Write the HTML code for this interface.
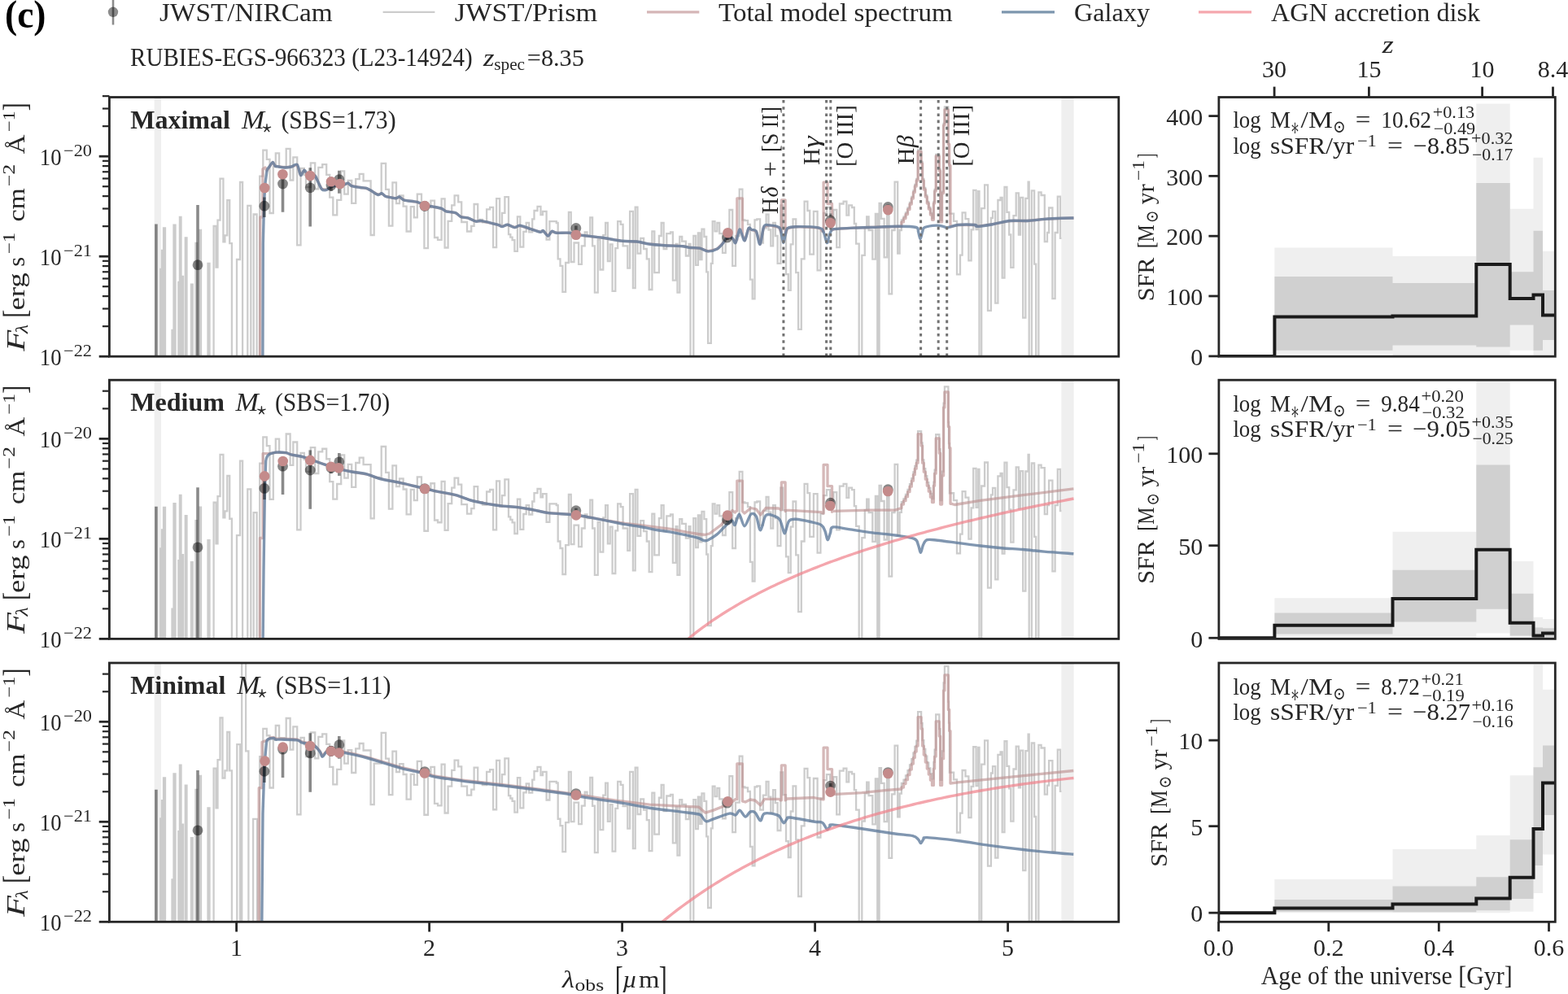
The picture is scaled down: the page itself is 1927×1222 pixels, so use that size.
<!DOCTYPE html><html><head><meta charset="utf-8"><title>SED fits</title>
<style>html,body{margin:0;padding:0;background:#fff;overflow:hidden}svg{display:block}text{font-family:"Liberation Serif", "DejaVu Serif", serif;fill:#262626}</style></head><body>
<svg width="1927" height="1222" viewBox="0 0 1927 1222">
<rect width="1927" height="1222" fill="#fff"/>
<defs>
<clipPath id="cl0"><rect x="134.4" y="119.5" width="1240.4" height="318.7"/></clipPath>
<clipPath id="cr0"><rect x="1497.9" y="119.5" width="413.4" height="318.7"/></clipPath>
<clipPath id="cl1"><rect x="134.4" y="467.2" width="1240.4" height="318.2"/></clipPath>
<clipPath id="cr1"><rect x="1497.9" y="467.2" width="413.4" height="318.2"/></clipPath>
<clipPath id="cl2"><rect x="134.4" y="815" width="1240.4" height="318.3"/></clipPath>
<clipPath id="cr2"><rect x="1497.9" y="815" width="413.4" height="318.3"/></clipPath>
</defs>
<g clip-path="url(#cl0)">
<rect x="189.6" y="119.5" width="8.4" height="318.7" fill="#efefef"/>
<rect x="1304.4" y="119.5" width="15.2" height="318.7" fill="#efefef"/>
<path d="M185 468.2 H197.2 V331 H199 V308 H201 V280.5 H203 V468.2 H211.5 V406 H213.5 V276.6 H215.5 V468.2 H219.4 V347 H220.9 V266.8 H222.5 V340 H225 V468.2 H227.8 V292.3 H229.5 V468.2 H234.9 V349.7 H236.8 V468.2 H240.4 V299 H242 V468.2 H245.5 V283 H247 V468.2 H255.5 V324 H257.5 V468.2 H258.5 V468.2 H259 V468.2 H185 Z" fill="#cccccc" stroke="none"/>
<path d="M185 468.2 H197.2 V331 H199 V308 H201 V280.5 H203 V468.2 H211.5 V406 H213.5 V276.6 H215.5 V468.2 H219.4 V347 H220.9 V266.8 H222.5 V340 H225 V468.2 H227.8 V292.3 H229.5 V468.2 H234.9 V349.7 H236.8 V468.2 H240.4 V299 H242 V468.2 H245.5 V283 H247 V468.2 H255.5 V324 H257.5 V468.2 H262.6 V278 H265.5 V328.7 H267.5 V270.7 H270.5 V219.6 H274.4 V297.3 H276.4 V289.4 H279.3 V246.2 H282.2 V299.1 H284.9 V468.2 H291 V319 H295 V224 H298.1 V468.2 H304.3 V252.8 H308.3 V468.2 H311.7 V263.5 H315.6 V468.2 H319.2 V216.6 H323.3 V184.7 H327.8 V195.8 H331.5 V262 H335.8 V205 H338.8 V188.4 H343.1 V205 H351.7 V182.9 H356.6 V221.5 H360.3 V193.3 H365.2 V301.3 H369.5 V206.8 H373.8 V215 H376 V230 H381.8 V200.4 H387.2 V232.3 H391.3 V205.8 H396.2 V202.2 H401.2 V214.8 H405.2 V242.7 H409.3 V264.3 H414.2 V245.8 H419.2 V210.3 H423.2 V238.6 H427.7 V222 H432.2 V249.9 H437.2 V220.2 H441.7 V213.9 H446.6 V222.4 H455.6 V289 H459.7 V238.6 H468.7 V200.8 H474.1 V232.8 H477.9 V277.6 H482.4 V224.4 H487 V250.1 H491 V240.4 H495.6 V253.6 H499.6 V284.5 H504.8 V254.1 H508.8 V267.3 H512.8 V238.7 H518 V253 H521.4 V305.1 H526 V255 H529.4 V246.7 H534 V292 H538 V294.8 H542.6 V244.4 H546.6 V304.5 H550.6 V271.9 H555.2 V252.4 H558.6 V240.4 H563.2 V248.4 H567.2 V273 H574 V284.5 H579.2 V277.9 H582.6 V251 H587.2 V269.9 H592.9 V273.3 H598.1 V257.3 H602.1 V254.8 H606.1 V304.2 H610.1 V244.1 H614.1 V275.6 H617 V261.9 H620.4 V242.2 H625 V288.2 H627.3 V291.6 H629.6 V295.1 H632.4 V308.8 H635.9 V266.4 H639.3 V303.7 H643.3 V284.8 H646.7 V273.9 H650.2 V285.3 H654.2 V269.3 H656.5 V259 H660.5 V253.8 H664.5 V264.1 H667 V259.9 H671.6 V294.7 H675.4 V272.1 H683.8 V274 H685.7 V318.3 H688.5 V326.8 H691.4 V358.8 H695.1 V323 H698.9 V260.8 H701.7 V322 H705.5 V298.5 H711.1 V324.9 H714.9 V302.3 H718.7 V285.3 H721.5 V290 H725.3 V267.4 H728.1 V302.3 H730.9 V359.7 H734.7 V294.7 H737.5 V331.5 H741.3 V289.1 H744.1 V274 H746.9 V321.1 H749.7 V300.4 H752.6 V357.8 H756.3 V305.1 H759.2 V272.1 H762.8 V275.9 H765.6 V302.3 H771.3 V329.6 H774.1 V259.9 H777.9 V354.1 H780.7 V254.6 H783.5 V311.7 H787.3 V292.9 H791.1 V306 H794.8 V318.3 H797.7 V356 H801.4 V284.4 H804.3 V335.2 H809.9 V290 H812.7 V274 H815.6 V306 H819.3 V287.2 H824 V285.3 H826.9 V344.7 H830.6 V300 H832.5 V359.7 H835.3 V291 H838.2 V296.6 H842.9 V314.5 H846.6 V300 H848.5 V468.2 H852.3 V290 H855.1 V325.8 H857.9 V286.3 H860.3 V319.2 H862.5 V281.6 H865.4 V291 H868.2 V334.3 H870.1 V421.9 H873.8 V323.9 H875.7 V272.1 H878.5 V284.4 H881.4 V274 H884.2 V287.2 H888 V310.8 H891.7 V290 H896.4 V258 H900.2 V326.8 H904 V290 H908.7 V232.6 H912.4 V270.3 H915.3 V271.2 H919 V275.9 H921.9 V343.7 H924.7 V367.3 H927.5 V270.3 H930.3 V269.3 H934.1 V298.5 H937.9 V280.6 H941.6 V263.7 H944.5 V282.5 H947.3 V302.3 H950.1 V274 H952.9 V290 H955.6 V323.9 H959.4 V252.4 H962.2 V280 H966 V337.1 H968.8 V356.9 H971.7 V300.4 H974.5 V269.3 H978.2 V335.2 H981.1 V404.9 H984.8 V318.3 H988.6 V247.7 H992.4 V259 H995.2 V312.6 H999.9 V259.9 H1004.6 V332.4 H1008.4 V284.4 H1012.1 V262 H1016 V255 H1020 V270 H1024.4 V258 H1028.2 V304.2 H1031.9 V250.5 H1036.6 V247.7 H1040.4 V264.6 H1043.2 V252.4 H1047 V255 H1049.8 V275 H1052.1 V299.6 H1055.7 V468.2 H1059.3 V313.9 H1062.8 V280 H1065.2 V266.4 H1067.6 V283 H1072.3 V318.6 H1075.9 V262.8 H1078.3 V468.2 H1080.6 V249.8 H1083 V268.8 H1086.6 V316.3 H1090.1 V264 H1092.5 V361.4 H1096.1 V283 H1099.6 V223.6 H1103.2 V311.5 H1105.6 V283 H1107.9 V270.5 H1110.5 V266.5 H1113 V261.5 H1115.5 V255.5 H1118 V249 H1120.3 V242 H1122.4 V234.5 H1124.3 V227 H1126.2 V220 H1128.1 V184.5 H1132.1 V199 H1133.6 V220 H1135.3 V231 H1137.3 V240 H1139.3 V248 H1141.3 V255 H1143.4 V262 H1145.5 V268.3 H1147.4 V248 H1148.6 V233 H1150.2 V189.8 H1154.3 V208 H1155.6 V270.9 H1157.6 V235.6 H1159.6 V151.8 H1160.9 V131.5 H1165.4 V175.4 H1166 V201.5 H1166.9 V262.7 H1172.1 V271.8 H1176 V337.3 H1180 V313.7 H1182.6 V261.4 H1186.5 V269.2 H1190.4 V320.3 H1193.6 V282.3 H1196.2 V233.9 H1199.6 V282 H1202.2 V235.2 H1203.5 V468.2 H1206.2 V256.1 H1210.1 V227.3 H1214 V381.8 H1217.9 V268 H1220 V259.8 H1223.2 V372.6 H1226.4 V246 H1229.6 V242.8 H1231.7 V341.7 H1234.5 V230 H1237.4 V260.9 H1240.2 V288.5 H1242.3 V328.9 H1245.5 V265.1 H1248.7 V237.4 H1251.9 V288.5 H1254 V242.8 H1257.2 V390.6 H1260.4 V243.8 H1263.6 V223.6 H1264.7 V468.2 H1267.9 V234.3 H1271.1 V324.7 H1273.2 V468.2 H1276.4 V236.4 H1279.6 V240 H1283.8 V297 H1287 V286 H1289.1 V255.5 H1293.4 V367.2 H1296.6 V286 H1299.8 V241.7 H1303 V292.8 H1304.5" fill="none" stroke="#cccccc" stroke-width="2.3" stroke-linejoin="miter"/>
<polyline points="319.4,470 319.8,267 322.9,267 322.9,208 326,206 328,210 331,205 335.2,199.4 338,204 343,205 350,206 358,205 365.2,202.5 369.5,215.4 373.8,209.3 378,214.2 382,215.5 387.2,216.1 395.3,232.3 401.6,233.2 407,229.6 415,228 423.2,226.9 427.7,225.1 432.2,228.7 443,230.5 450.2,231.4 455.6,234.1 464.6,239.5 469.1,237.7 473.6,241.3 480,242.7 486.5,243.8 491,242.1 496.8,246.1 512.8,248.4 522,252.4 532.3,254.1 542.6,256.4 548.3,259.9 559.8,261.6 566.6,266.7 575,267.9 584.9,272.2 591.8,271.6 611.2,276.2 617,278.5 623.8,276.2 632.4,279.6 638.7,277.3 650.2,280.8 663.9,285.3 667.4,283.6 673.5,290 678.2,284.4 683.8,286.3 699.8,286.3 714,289.1 740.3,292.3 765,296.3 782.6,297 797.7,300 816.5,301.7 839.1,302.7 848.5,304.5 860,305.1 870.1,308.9 881.4,306 888.9,298.5 892.7,292.9 900.2,292.9 904,298.5 905,295.1 905.8,295.1 905.8,243.9 912.4,243.9 912.4,289.21 913,290.56 915.3,295.7 920,280.6 923.7,282.5 929.4,284.4 934.1,300.4 938.8,278.7 945.4,276.9 957.5,279.7 959.5,285.23 960.4,285.23 960.4,245.8 965.1,245.8 965.1,288.84 966,286.01 967.9,280.6 978.2,278.7 1006.5,280.1 1011.5,284.74 1012.1,284.74 1012.1,224.1 1017,224.1 1017,250.5 1022.5,250.5 1022.5,282.96 1023,282.72 1025.3,281.6 1050,280.1 1068.8,279.5 1104.4,278.3 1107.9,278.5 1107.9,278.5 1107.9,272.9 1110.5,272.9 1110.5,268.5 1113,268.5 1113,263.5 1115.5,263.5 1115.5,257.5 1118,257.5 1118,251 1120.3,251 1120.3,244 1122.4,244 1122.4,236.5 1124.3,236.5 1124.3,229 1126.2,229 1126.2,222 1128.1,222 1128.1,186.5 1132.1,186.5 1132.1,200.9 1133.6,200.9 1133.6,222 1135.3,222 1135.3,233 1137.3,233 1137.3,242 1139.3,242 1139.3,250 1141.3,250 1141.3,257 1143.4,257 1143.4,264 1145.5,264 1145.5,270.3 1147.4,270.3 1147.4,250 1148.6,250 1148.6,235 1150.2,235 1150.2,191.8 1154.3,191.8 1154.3,210 1155.6,210 1155.6,272.9 1157.6,272.9 1157.6,237.6 1159.6,237.6 1159.6,153.8 1160.9,153.8 1160.9,134.8 1165.4,134.8 1165.4,177.4 1166.7,177.4 1166.7,203.5 1168,203.5 1168,278.8 1177.4,276.5 1198.3,276.5 1200.9,278.4 1220,275.7 1241.3,271.5 1262.6,271.5 1283.8,269.4 1305.1,268.3 1319.5,268" fill="none" stroke="#bc8f8f" stroke-opacity="0.63" stroke-width="3.3" stroke-linejoin="round"/>
<path d="M322.8 470 L323.3 300 L324.5 250 L326 225 L328 210 C328.83 206.67 329.8 206.77 331 205 C331.7 204.07 334.03 199.57 335.2 199.4 C336.37 199.23 336.7 203.07 338 204 C339.3 204.93 341 204.67 343 205 C345 205.33 347.5 206 350 206 C352.5 206 355.47 205.58 358 205 C360.53 204.42 363.28 200.77 365.2 202.5 C367.12 204.23 368.07 214.27 369.5 215.4 C370.93 216.53 372.38 209.5 373.8 209.3 C375.22 209.1 376.63 213.17 378 214.2 C379.37 215.23 380.47 215.18 382 215.5 C383.53 215.82 384.98 213.3 387.2 216.1 C389.42 218.9 392.9 229.45 395.3 232.3 C397.7 235.15 399.65 233.65 401.6 233.2 C403.55 232.75 404.77 230.47 407 229.6 C409.23 228.73 412.3 228.45 415 228 C417.7 227.55 421.08 227.38 423.2 226.9 C425.32 226.42 426.2 224.8 427.7 225.1 C429.2 225.4 429.65 227.8 432.2 228.7 C434.75 229.6 440 230.05 443 230.5 C446 230.95 448.1 230.8 450.2 231.4 C452.3 232 453.2 232.75 455.6 234.1 C458 235.45 462.35 238.9 464.6 239.5 C466.85 240.1 467.6 237.4 469.1 237.7 C470.6 238 471.78 240.47 473.6 241.3 C475.42 242.13 477.85 242.28 480 242.7 C482.15 243.12 484.67 243.9 486.5 243.8 C488.33 243.7 489.28 241.72 491 242.1 C492.72 242.48 493.17 245.05 496.8 246.1 C500.43 247.15 508.6 247.35 512.8 248.4 C517 249.45 518.75 251.45 522 252.4 C525.25 253.35 528.87 253.43 532.3 254.1 C535.73 254.77 539.93 255.43 542.6 256.4 C545.27 257.37 545.43 259.03 548.3 259.9 C551.17 260.77 556.75 260.47 559.8 261.6 C562.85 262.73 564.07 265.65 566.6 266.7 C569.13 267.75 571.95 266.98 575 267.9 C578.05 268.82 582.1 271.58 584.9 272.2 C587.7 272.82 587.42 270.93 591.8 271.6 C596.18 272.27 607 275.05 611.2 276.2 C615.4 277.35 614.9 278.5 617 278.5 C619.1 278.5 621.23 276.02 623.8 276.2 C626.37 276.38 629.92 279.42 632.4 279.6 C634.88 279.78 635.73 277.1 638.7 277.3 C641.67 277.5 646 279.47 650.2 280.8 C654.4 282.13 661.03 284.83 663.9 285.3 C666.77 285.77 665.8 282.82 667.4 283.6 C669 284.38 671.7 289.87 673.5 290 C675.3 290.13 676.48 285.02 678.2 284.4 C679.92 283.78 680.2 285.98 683.8 286.3 C687.4 286.62 694.77 285.83 699.8 286.3 C704.83 286.77 707.25 288.1 714 289.1 C720.75 290.1 731.8 291.1 740.3 292.3 C748.8 293.5 757.95 295.52 765 296.3 C772.05 297.08 777.15 296.38 782.6 297 C788.05 297.62 792.05 299.22 797.7 300 C803.35 300.78 809.6 301.25 816.5 301.7 C823.4 302.15 833.77 302.23 839.1 302.7 C844.43 303.17 845.02 304.1 848.5 304.5 C851.98 304.9 856.4 304.37 860 305.1 C863.6 305.83 866.53 308.75 870.1 308.9 C873.67 309.05 878.27 307.73 881.4 306 C884.53 304.27 887.02 300.68 888.9 298.5 C890.78 296.32 890.82 293.83 892.7 292.9 C894.58 291.97 898.32 291.97 900.2 292.9 C902.08 293.83 902.58 300.23 904 298.5 C905.42 296.77 907.45 284.38 908.7 282.5 C909.95 280.62 910.4 285 911.5 287.2 C912.6 289.4 913.88 296.8 915.3 295.7 C916.72 294.6 918.6 282.8 920 280.6 C921.4 278.4 922.13 281.87 923.7 282.5 C925.27 283.13 927.67 281.42 929.4 284.4 C931.13 287.38 932.53 301.35 934.1 300.4 C935.67 299.45 936.92 282.62 938.8 278.7 C940.68 274.78 942.28 276.73 945.4 276.9 C948.52 277.07 954.98 277.85 957.5 279.7 C960.02 281.55 959.62 284.87 960.5 288 C961.38 291.13 962 298.5 962.8 298.5 C963.6 298.5 964.45 290.98 965.3 288 C966.15 285.02 965.75 282.15 967.9 280.6 C970.05 279.05 971.77 278.78 978.2 278.7 C984.63 278.62 1000.85 279 1006.5 280.1 C1012.15 281.2 1010.47 282.23 1012.1 285.3 C1013.73 288.37 1015.15 297.72 1016.3 298.5 C1017.45 299.28 1018.12 292.52 1019 290 C1019.88 287.48 1020.55 284.8 1021.6 283.4 C1022.65 282 1020.57 282.15 1025.3 281.6 C1030.03 281.05 1042.75 280.45 1050 280.1 C1057.25 279.75 1059.73 279.8 1068.8 279.5 C1077.87 279.2 1094.9 278.3 1104.4 278.3 C1113.9 278.3 1121.77 278.38 1125.8 279.5 C1129.83 280.62 1127.73 282.63 1128.6 285 C1129.47 287.37 1130.17 293.7 1131 293.7 C1131.83 293.7 1132.7 287.37 1133.6 285 C1134.5 282.63 1133.47 280.82 1136.4 279.5 C1139.33 278.18 1147.43 277.28 1151.2 277.1 C1154.97 276.92 1156.82 277.97 1159 278.4 C1161.18 278.83 1161.23 280.02 1164.3 279.7 C1167.37 279.38 1171.73 277.03 1177.4 276.5 C1183.07 275.97 1194.38 276.18 1198.3 276.5 C1202.22 276.82 1197.28 278.53 1200.9 278.4 C1204.52 278.27 1213.27 276.85 1220 275.7 C1226.73 274.55 1234.2 272.2 1241.3 271.5 C1248.4 270.8 1255.52 271.85 1262.6 271.5 C1269.68 271.15 1276.72 269.93 1283.8 269.4 C1290.88 268.87 1299.15 268.53 1305.1 268.3 C1311.05 268.07 1317.1 268.05 1319.5 268" fill="none" stroke="#607c9c" stroke-opacity="0.8" stroke-width="3.4" stroke-linejoin="round"/>
<line x1="962.9" y1="438.2" x2="962.9" y2="119.5" stroke="#727272" stroke-width="3.0" stroke-dasharray="3.6 4.6"/>
<line x1="1015.6" y1="438.2" x2="1015.6" y2="119.5" stroke="#727272" stroke-width="3.0" stroke-dasharray="3.6 4.6"/>
<line x1="1020.8" y1="438.2" x2="1020.8" y2="119.5" stroke="#727272" stroke-width="3.0" stroke-dasharray="3.6 4.6"/>
<line x1="1131.6" y1="438.2" x2="1131.6" y2="119.5" stroke="#727272" stroke-width="3.0" stroke-dasharray="3.6 4.6"/>
<line x1="1153.2" y1="438.2" x2="1153.2" y2="119.5" stroke="#727272" stroke-width="3.0" stroke-dasharray="3.6 4.6"/>
<line x1="1163.7" y1="438.2" x2="1163.7" y2="119.5" stroke="#727272" stroke-width="3.0" stroke-dasharray="3.6 4.6"/>
<line x1="191.9" y1="275.6" x2="191.9" y2="468.2" stroke="#000" stroke-opacity="0.46" stroke-width="3.6"/>
<line x1="243" y1="252" x2="243" y2="468.2" stroke="#000" stroke-opacity="0.46" stroke-width="3.6"/>
<circle cx="243" cy="325.7" r="6.4" fill="#000" fill-opacity="0.47"/>
<line x1="324.9" y1="242.4" x2="324.9" y2="266.9" stroke="#000" stroke-opacity="0.46" stroke-width="3.6"/>
<circle cx="324.9" cy="253.2" r="6.4" fill="#000" fill-opacity="0.47"/>
<line x1="347.5" y1="219" x2="347.5" y2="260.8" stroke="#000" stroke-opacity="0.46" stroke-width="3.6"/>
<circle cx="347.5" cy="226" r="6.4" fill="#000" fill-opacity="0.47"/>
<line x1="381.2" y1="206.2" x2="381.2" y2="278.6" stroke="#000" stroke-opacity="0.46" stroke-width="3.6"/>
<circle cx="381.2" cy="230.8" r="6.4" fill="#000" fill-opacity="0.47"/>
<line x1="407" y1="222" x2="407" y2="235" stroke="#000" stroke-opacity="0.46" stroke-width="3.6"/>
<circle cx="407" cy="228" r="6.4" fill="#000" fill-opacity="0.47"/>
<line x1="416.8" y1="209.8" x2="416.8" y2="237.7" stroke="#000" stroke-opacity="0.46" stroke-width="3.6"/>
<circle cx="416.8" cy="220.6" r="6.4" fill="#000" fill-opacity="0.47"/>
<line x1="522" y1="249.5" x2="522" y2="257.5" stroke="#000" stroke-opacity="0.46" stroke-width="3.6"/>
<circle cx="522" cy="253.5" r="6.4" fill="#000" fill-opacity="0.47"/>
<line x1="707.9" y1="277.5" x2="707.9" y2="283.5" stroke="#000" stroke-opacity="0.46" stroke-width="3.6"/>
<circle cx="707.9" cy="280.5" r="6.4" fill="#000" fill-opacity="0.47"/>
<line x1="893.8" y1="289" x2="893.8" y2="295" stroke="#000" stroke-opacity="0.46" stroke-width="3.6"/>
<circle cx="893.8" cy="292" r="6.4" fill="#000" fill-opacity="0.47"/>
<line x1="1020.6" y1="268" x2="1020.6" y2="274" stroke="#000" stroke-opacity="0.46" stroke-width="3.6"/>
<circle cx="1020.6" cy="271" r="6.4" fill="#000" fill-opacity="0.47"/>
<line x1="1091.3" y1="251.5" x2="1091.3" y2="257.5" stroke="#000" stroke-opacity="0.46" stroke-width="3.6"/>
<circle cx="1091.3" cy="254.5" r="6.4" fill="#000" fill-opacity="0.47"/>
<circle cx="325.2" cy="231" r="6.3" fill="#c48b8b"/>
<circle cx="347.4" cy="214.2" r="6.3" fill="#c48b8b"/>
<circle cx="381.2" cy="216" r="6.3" fill="#c48b8b"/>
<circle cx="407" cy="223.3" r="6.3" fill="#c48b8b"/>
<circle cx="417.8" cy="226" r="6.3" fill="#c48b8b"/>
<circle cx="522" cy="253" r="6.3" fill="#c48b8b"/>
<circle cx="707.9" cy="288.7" r="6.3" fill="#c48b8b"/>
<circle cx="894.5" cy="286.3" r="6.3" fill="#c48b8b"/>
<circle cx="1020.6" cy="274" r="6.3" fill="#c48b8b"/>
<circle cx="1091.3" cy="258.1" r="6.3" fill="#c48b8b"/>
</g>
<g clip-path="url(#cl1)">
<rect x="189.6" y="467.2" width="8.4" height="318.2" fill="#efefef"/>
<rect x="1304.4" y="467.2" width="15.2" height="318.2" fill="#efefef"/>
<path d="M185 815.4 H197.2 V674.5 H199 V651.4 H201 V623.79 H203 V815.4 H211.5 V748.69 H213.5 V619.17 H215.5 V815.4 H219.4 V689.23 H220.9 V608.95 H222.5 V682.06 H225 V815.4 H227.8 V634.05 H229.5 V815.4 H234.9 V691.05 H236.8 V815.4 H240.4 V640.03 H242 V815.4 H245.5 V623.74 H247 V815.4 H255.5 V664.17 H257.5 V815.4 H258.5 V815.4 H259 V815.4 H185 Z" fill="#cccccc" stroke="none"/>
<path d="M185 815.4 H197.2 V674.5 H199 V651.4 H201 V623.79 H203 V815.4 H211.5 V748.69 H213.5 V619.17 H215.5 V815.4 H219.4 V689.23 H220.9 V608.95 H222.5 V682.06 H225 V815.4 H227.8 V634.05 H229.5 V815.4 H234.9 V691.05 H236.8 V815.4 H240.4 V640.03 H242 V815.4 H245.5 V623.74 H247 V815.4 H255.5 V664.17 H257.5 V815.4 H262.6 V617.77 H265.5 V668.3 H267.5 V610.19 H270.5 V558.91 H274.4 V636.39 H276.4 V628.38 H279.3 V585.01 H282.2 V637.75 H284.9 V815.4 H291 V658.1 H295 V566.7 H298.1 V815.4 H304.3 V601.43 H308.3 V815.4 H311.7 V630.2 H315.6 V815.4 H319.2 V569.69 H323.3 V537.42 H327.8 V548.11 H331.5 V613.97 H335.8 V556.58 H338.8 V539.71 H343.1 V556.05 H351.7 V533.51 H356.6 V571.87 H360.3 V543.49 H365.2 V651.41 H369.5 V556.83 H373.8 V564.95 H376 V579.91 H381.8 V550.2 H387.2 V582.01 H391.3 V555.43 H396.2 V551.74 H401.2 V564.25 H405.2 V592.08 H409.3 V613.6 H414.2 V595.01 H419.2 V559.42 H423.2 V587.65 H427.7 V570.97 H432.2 V598.79 H437.2 V569 H441.7 V562.61 H446.6 V571.03 H455.6 V637.46 H459.7 V586.99 H468.7 V549.02 H474.1 V580.95 H477.9 V625.71 H482.4 V572.46 H487 V598.11 H491 V588.37 H495.6 V601.52 H499.6 V632.37 H504.8 V601.91 H508.8 V615.07 H512.8 V586.42 H518 V600.67 H521.4 V652.73 H526 V602.58 H529.4 V594.24 H534 V639.49 H538 V642.24 H542.6 V591.79 H546.6 V651.85 H550.6 V619.2 H555.2 V599.65 H558.6 V587.62 H563.2 V595.6 H567.2 V620.2 H574 V631.7 H579.2 V625.1 H582.6 V598.2 H587.2 V617.1 H592.9 V620.5 H598.1 V604.5 H602.1 V602 H606.1 V651.4 H610.1 V591.3 H614.1 V622.8 H617 V609.1 H620.4 V589.4 H625 V635.4 H627.3 V638.8 H629.6 V642.3 H632.4 V656 H635.9 V613.6 H639.3 V650.9 H643.3 V632 H646.7 V621.1 H650.2 V632.5 H654.2 V616.5 H656.5 V606.2 H660.5 V601 H664.5 V611.3 H667 V607.1 H671.6 V641.9 H675.4 V619.3 H683.8 V621.2 H685.7 V665.5 H688.5 V674 H691.4 V706 H695.1 V670.2 H698.9 V608 H701.7 V669.2 H705.5 V645.7 H711.1 V672.1 H714.9 V649.5 H718.7 V632.5 H721.5 V637.2 H725.3 V614.6 H728.1 V649.5 H730.9 V706.9 H734.7 V641.9 H737.5 V678.7 H741.3 V636.3 H744.1 V621.2 H746.9 V668.3 H749.7 V647.6 H752.6 V705 H756.3 V652.3 H759.2 V619.3 H762.8 V623.1 H765.6 V649.5 H771.3 V676.8 H774.1 V607.1 H777.9 V701.3 H780.7 V601.8 H783.5 V658.9 H787.3 V640.1 H791.1 V653.2 H794.8 V665.5 H797.7 V703.2 H801.4 V631.6 H804.3 V682.4 H809.9 V637.2 H812.7 V621.2 H815.6 V653.2 H819.3 V634.4 H824 V632.5 H826.9 V691.9 H830.6 V647.2 H832.5 V706.9 H835.3 V638.2 H838.2 V643.8 H842.9 V661.7 H846.6 V647.2 H848.5 V815.4 H852.3 V637.2 H855.1 V673 H857.9 V633.5 H860.3 V666.4 H862.5 V628.8 H865.4 V638.2 H868.2 V681.5 H870.1 V769.1 H873.8 V671.1 H875.7 V619.3 H878.5 V631.6 H881.4 V621.2 H884.2 V634.4 H888 V658 H891.7 V637.2 H896.4 V605.2 H900.2 V674 H904 V637.2 H908.7 V579.8 H912.4 V617.5 H915.3 V618.4 H919 V623.1 H921.9 V690.9 H924.7 V714.5 H927.5 V617.5 H930.3 V616.5 H934.1 V645.7 H937.9 V627.8 H941.6 V610.9 H944.5 V629.7 H947.3 V649.5 H950.1 V621.2 H952.9 V637.2 H955.6 V671.1 H959.4 V599.6 H962.2 V627.2 H966 V684.3 H968.8 V704.1 H971.7 V647.6 H974.5 V616.5 H978.2 V682.4 H981.1 V752.1 H984.8 V665.5 H988.6 V594.9 H992.4 V606.2 H995.2 V659.8 H999.9 V607.1 H1004.6 V679.6 H1008.4 V631.6 H1012.1 V609.2 H1016 V602.2 H1020 V617.2 H1024.4 V605.2 H1028.2 V651.4 H1031.9 V597.7 H1036.6 V594.9 H1040.4 V611.8 H1043.2 V599.6 H1047 V602.2 H1049.8 V622.2 H1052.1 V646.8 H1055.7 V815.4 H1059.3 V661.1 H1062.8 V627.2 H1065.2 V613.6 H1067.6 V630.2 H1072.3 V665.8 H1075.9 V610 H1078.3 V815.4 H1080.6 V597 H1083 V616 H1086.6 V663.5 H1090.1 V611.2 H1092.5 V708.6 H1096.1 V630.2 H1099.6 V570.8 H1103.2 V658.53 H1105.6 V629.89 H1107.9 V617.27 H1110.5 V613.13 H1113 V607.99 H1115.5 V601.85 H1118 V595.22 H1120.3 V588.09 H1122.4 V580.48 H1124.3 V572.87 H1126.2 V565.77 H1128.1 V530.17 H1132.1 V544.45 H1133.6 V565.37 H1135.3 V576.27 H1137.3 V585.17 H1139.3 V593.06 H1141.3 V599.95 H1143.4 V606.83 H1145.5 V613.02 H1147.4 V592.61 H1148.6 V577.55 H1150.2 V534.26 H1154.3 V552.24 H1155.6 V615.07 H1157.6 V579.66 H1159.6 V495.75 H1160.9 V475.38 H1165.4 V519.03 H1166 V545.1 H1166.9 V606.25 H1172.1 V615.07 H1176 V680.35 H1180 V656.54 H1182.6 V604.09 H1186.5 V611.68 H1190.4 V662.57 H1193.6 V624.39 H1196.2 V575.85 H1199.6 V623.77 H1202.2 V576.83 H1203.5 V815.4 H1206.2 V597.51 H1210.1 V568.49 H1214 V722.56 H1217.9 V608.34 H1220 V599.91 H1223.2 V712.36 H1226.4 V585.41 H1229.6 V581.86 H1231.7 V680.53 H1234.5 V568.53 H1237.4 V599.11 H1240.2 V626.41 H1242.3 V666.58 H1245.5 V602.43 H1248.7 V574.38 H1251.9 V625.13 H1254 V579.2 H1257.2 V726.65 H1260.4 V579.5 H1263.6 V558.95 H1264.7 V815.4 H1267.9 V569.5 H1271.1 V659.9 H1273.2 V815.4 H1276.4 V571.6 H1279.6 V575.2 H1283.8 V632.2 H1287 V621.2 H1289.1 V590.7 H1293.4 V702.4 H1296.6 V621.2 H1299.8 V576.9 H1303 V628 H1304.5" fill="none" stroke="#cccccc" stroke-width="2.3" stroke-linejoin="miter"/>
<polyline points="319.3,800 319.5,661.5 323.1,661.5 323.1,557.6 331.4,557.6 339.2,556.1 351.6,556.6 357.8,558.9 373.4,562 389,567.5 399.9,571.4 420.1,577.3 432.6,580 451.3,583.1 466.8,588.5 490.2,593.2 513.5,598.6 536.9,604.1 560.2,608.7 580,615.5 598.8,619.3 617.6,622.1 636.5,623.6 655.3,626.8 674.1,630.6 702.3,632.5 721.2,635.3 749.4,640.5 768.2,643.5 787,645.6 824.7,650.3 843.5,654.1 858,656.5 866.1,657.5 872,656 886.2,645.4 894,634.9 900,627.5 903.2,630 905,628.1 905.8,628.1 905.8,591.1 912.4,591.1 912.4,628.44 913,629.03 915,631 922.8,624.5 929.4,626 934.6,633 941.2,624.5 957,625 959.5,626.74 960.4,626.74 960.4,593 965.1,593 965.1,628.55 966,627.1 1009.2,629.7 1011.5,630.95 1012.1,630.95 1012.1,571.3 1017,571.3 1017,597.7 1022.5,597.7 1022.5,629.35 1023,628.92 1023.6,628.4 1069.4,627.1 1100,627.1 1107.9,624.69 1107.9,624.69 1107.9,620.1 1110.5,620.1 1110.5,615.7 1113,615.7 1113,610.7 1115.5,610.7 1115.5,604.7 1118,604.7 1118,598.2 1120.3,598.2 1120.3,591.2 1122.4,591.2 1122.4,583.7 1124.3,583.7 1124.3,576.2 1126.2,576.2 1126.2,569.2 1128.1,569.2 1128.1,533.7 1132.1,533.7 1132.1,548.1 1133.6,548.1 1133.6,569.2 1135.3,569.2 1135.3,580.2 1137.3,580.2 1137.3,589.2 1139.3,589.2 1139.3,597.2 1141.3,597.2 1141.3,604.2 1143.4,604.2 1143.4,611.2 1145.5,611.2 1145.5,617.5 1147.4,617.5 1147.4,597.2 1148.6,597.2 1148.6,582.2 1150.2,582.2 1150.2,539 1154.3,539 1154.3,557.2 1155.6,557.2 1155.6,620.1 1157.6,620.1 1157.6,584.8 1159.6,584.8 1159.6,501 1160.9,501 1160.9,482 1165.4,482 1165.4,524.6 1166.7,524.6 1166.7,550.7 1168,550.7 1168,619.33 1168.6,619.2 1173.3,620.5 1204.7,615.3 1257.1,608.7 1319.4,600.9" fill="none" stroke="#bc8f8f" stroke-opacity="0.63" stroke-width="3.3" stroke-linejoin="round"/>
<path d="M323 800 L324 700 L325.5 600 L326.7 566.7 C327.68 559.72 329.32 559.87 331.4 558.1 C332.7 557.77 335.83 556.35 339.2 556.1 C342.57 555.85 348.5 556.13 351.6 556.6 C354.7 557.07 354.17 558 357.8 558.9 C361.43 559.8 368.2 560.57 373.4 562 C378.6 563.43 384.58 565.93 389 567.5 C393.42 569.07 394.72 569.77 399.9 571.4 C405.08 573.03 414.65 575.87 420.1 577.3 C425.55 578.73 427.4 579.03 432.6 580 C437.8 580.97 445.6 581.68 451.3 583.1 C457 584.52 460.32 586.82 466.8 588.5 C473.28 590.18 482.42 591.52 490.2 593.2 C497.98 594.88 505.72 596.78 513.5 598.6 C521.28 600.42 529.12 602.42 536.9 604.1 C544.68 605.78 553.02 606.8 560.2 608.7 C567.38 610.6 573.57 613.73 580 615.5 C586.43 617.27 592.53 618.2 598.8 619.3 C605.07 620.4 611.32 621.38 617.6 622.1 C623.88 622.82 630.22 622.82 636.5 623.6 C642.78 624.38 649.03 625.63 655.3 626.8 C661.57 627.97 666.27 629.65 674.1 630.6 C681.93 631.55 694.45 631.72 702.3 632.5 C710.15 633.28 713.35 633.9 721.2 635.3 C729.05 636.7 741.57 639.33 749.4 640.9 C757.23 642.47 761.93 643.6 768.2 644.7 C774.47 645.8 780.72 646.4 787 647.5 C793.28 648.6 799.62 650.2 805.9 651.3 C812.18 652.4 818.43 653 824.7 654.1 C830.97 655.2 837.85 656.65 843.5 657.9 C849.15 659.15 855.02 660.5 858.6 661.6 C862.18 662.7 863.1 664.1 865 664.5 C866.9 664.9 867.35 665.22 870 664 C872.65 662.78 877.55 659.87 880.9 657.2 C884.25 654.53 887.03 650.83 890.1 648 C893.17 645.17 897.12 640.63 899.3 640.2 C901.48 639.77 901.68 646.72 903.2 645.4 C904.72 644.08 906.43 632.08 908.4 632.3 C910.37 632.52 912.6 646.7 915 646.7 C917.4 646.7 920.4 634.27 922.8 632.3 C925.2 630.33 927.43 631.63 929.4 634.9 C931.37 638.17 932.63 652.12 934.6 651.9 C936.57 651.68 938.37 636.52 941.2 633.6 C944.03 630.68 948.77 633.53 951.6 634.4 C954.43 635.27 956.55 636.53 958.2 638.8 C959.85 641.07 960.5 645.15 961.5 648 C962.5 650.85 963.28 655.9 964.2 655.9 C965.12 655.9 966.05 650.62 967 648 C967.95 645.38 968.1 641.82 969.9 640.2 C971.7 638.58 973.43 638.08 977.8 638.3 C982.17 638.52 990.87 640.32 996.1 641.5 C1001.33 642.68 1006.22 643.48 1009.2 645.4 C1012.18 647.32 1012.68 649.95 1014 653 C1015.32 656.05 1016.02 663.37 1017.1 663.7 C1018.18 664.03 1019.42 657.62 1020.5 655 C1021.58 652.38 1019.82 648.73 1023.6 648 C1027.38 647.27 1035.57 649.5 1043.2 650.6 C1050.83 651.7 1059.93 653.37 1069.4 654.6 C1078.87 655.83 1090.97 656.7 1100 658 C1109.03 659.3 1118.85 660.4 1123.6 662.4 C1128.35 664.4 1127.2 667.17 1128.5 670 C1129.8 672.83 1130.4 679.4 1131.4 679.4 C1132.4 679.4 1133.18 672.62 1134.5 670 C1135.82 667.38 1136.38 664.67 1139.3 663.7 C1142.22 662.73 1145.47 663.55 1152 664.2 C1158.53 664.85 1169.72 666.47 1178.5 667.6 C1187.28 668.73 1195.97 669.98 1204.7 671 C1213.43 672.02 1222.17 672.95 1230.9 673.7 C1239.63 674.45 1248.38 674.77 1257.1 675.5 C1265.82 676.23 1272.82 677.23 1283.2 678.1 C1293.58 678.97 1313.37 680.27 1319.4 680.7" fill="none" stroke="#607c9c" stroke-opacity="0.8" stroke-width="3.4" stroke-linejoin="round"/>
<polyline points="840,790.22 844,786.82 847.99,783.52 851.99,780.31 855.98,777.18 859.98,774.13 863.98,771.16 867.97,768.26 871.97,765.44 875.96,762.67 879.96,759.97 883.95,757.33 887.95,754.75 891.95,752.23 895.94,749.75 899.94,747.33 903.93,744.96 907.93,742.63 911.92,740.35 915.92,738.11 919.92,735.91 923.91,733.76 927.91,731.64 931.9,729.56 935.9,727.52 939.9,725.51 943.89,723.53 947.89,721.59 951.88,719.68 955.88,717.8 959.88,715.95 963.87,714.13 967.87,712.33 971.86,710.57 975.86,708.82 979.85,707.11 983.85,705.42 987.85,703.75 991.84,702.11 995.84,700.49 999.83,698.89 1003.83,697.31 1007.83,695.76 1011.82,694.22 1015.82,692.71 1019.81,691.21 1023.81,689.73 1027.8,688.28 1031.8,686.84 1035.8,685.41 1039.79,684.01 1043.79,682.62 1047.78,681.24 1051.78,679.89 1055.78,678.55 1059.77,677.22 1063.77,675.91 1067.76,674.61 1071.76,673.33 1075.75,672.06 1079.75,670.81 1083.75,669.56 1087.74,668.34 1091.74,667.12 1095.73,665.92 1099.73,664.73 1103.72,663.55 1107.72,662.38 1111.72,661.23 1115.71,660.08 1119.71,658.95 1123.7,657.83 1127.7,656.72 1131.7,655.62 1135.69,654.53 1139.69,653.45 1143.68,652.38 1147.68,651.32 1151.67,650.27 1155.67,649.23 1159.67,648.19 1163.66,647.17 1167.66,646.16 1171.65,645.15 1175.65,644.15 1179.65,643.17 1183.64,642.19 1187.64,641.21 1191.63,640.25 1195.63,639.3 1199.62,638.35 1203.62,637.41 1207.62,636.48 1211.61,635.55 1215.61,634.63 1219.6,633.72 1223.6,632.82 1227.6,631.92 1231.59,631.03 1235.59,630.15 1239.58,629.27 1243.58,628.4 1247.58,627.54 1251.57,626.68 1255.57,625.83 1259.56,624.99 1263.56,624.15 1267.55,623.32 1271.55,622.49 1275.55,621.67 1279.54,620.86 1283.54,620.05 1287.53,619.25 1291.53,618.45 1295.53,617.66 1299.52,616.87 1303.52,616.09 1307.51,615.31 1311.51,614.54 1315.5,613.78 1319.5,613.02" fill="none" stroke="#f0808a" stroke-opacity="0.7" stroke-width="3.4" stroke-linejoin="round"/>
<line x1="191.9" y1="622.8" x2="191.9" y2="815.4" stroke="#000" stroke-opacity="0.46" stroke-width="3.6"/>
<line x1="243" y1="599.2" x2="243" y2="815.4" stroke="#000" stroke-opacity="0.46" stroke-width="3.6"/>
<circle cx="243" cy="672.9" r="6.4" fill="#000" fill-opacity="0.47"/>
<line x1="324.9" y1="589.6" x2="324.9" y2="614.1" stroke="#000" stroke-opacity="0.46" stroke-width="3.6"/>
<circle cx="324.9" cy="600.4" r="6.4" fill="#000" fill-opacity="0.47"/>
<line x1="347.5" y1="566.2" x2="347.5" y2="608" stroke="#000" stroke-opacity="0.46" stroke-width="3.6"/>
<circle cx="347.5" cy="573.2" r="6.4" fill="#000" fill-opacity="0.47"/>
<line x1="381.2" y1="553.4" x2="381.2" y2="625.8" stroke="#000" stroke-opacity="0.46" stroke-width="3.6"/>
<circle cx="381.2" cy="578" r="6.4" fill="#000" fill-opacity="0.47"/>
<line x1="407" y1="569.2" x2="407" y2="582.2" stroke="#000" stroke-opacity="0.46" stroke-width="3.6"/>
<circle cx="407" cy="575.2" r="6.4" fill="#000" fill-opacity="0.47"/>
<line x1="416.8" y1="557" x2="416.8" y2="584.9" stroke="#000" stroke-opacity="0.46" stroke-width="3.6"/>
<circle cx="416.8" cy="567.8" r="6.4" fill="#000" fill-opacity="0.47"/>
<line x1="522" y1="596.7" x2="522" y2="604.7" stroke="#000" stroke-opacity="0.46" stroke-width="3.6"/>
<circle cx="522" cy="600.7" r="6.4" fill="#000" fill-opacity="0.47"/>
<line x1="707.9" y1="624.7" x2="707.9" y2="630.7" stroke="#000" stroke-opacity="0.46" stroke-width="3.6"/>
<circle cx="707.9" cy="627.7" r="6.4" fill="#000" fill-opacity="0.47"/>
<line x1="893.8" y1="636.2" x2="893.8" y2="642.2" stroke="#000" stroke-opacity="0.46" stroke-width="3.6"/>
<circle cx="893.8" cy="639.2" r="6.4" fill="#000" fill-opacity="0.47"/>
<line x1="1020.6" y1="615.2" x2="1020.6" y2="621.2" stroke="#000" stroke-opacity="0.46" stroke-width="3.6"/>
<circle cx="1020.6" cy="618.2" r="6.4" fill="#000" fill-opacity="0.47"/>
<line x1="1091.3" y1="598.7" x2="1091.3" y2="604.7" stroke="#000" stroke-opacity="0.46" stroke-width="3.6"/>
<circle cx="1091.3" cy="601.7" r="6.4" fill="#000" fill-opacity="0.47"/>
<circle cx="325.1" cy="585.4" r="6.3" fill="#c48b8b"/>
<circle cx="347.7" cy="567" r="6.3" fill="#c48b8b"/>
<circle cx="381.2" cy="565.9" r="6.3" fill="#c48b8b"/>
<circle cx="406.9" cy="573.7" r="6.3" fill="#c48b8b"/>
<circle cx="416.2" cy="575.3" r="6.3" fill="#c48b8b"/>
<circle cx="522.1" cy="601" r="6.3" fill="#c48b8b"/>
<circle cx="708" cy="633.4" r="6.3" fill="#c48b8b"/>
<circle cx="894" cy="633.6" r="6.3" fill="#c48b8b"/>
<circle cx="1020.2" cy="621.8" r="6.3" fill="#c48b8b"/>
<circle cx="1091.2" cy="604" r="6.3" fill="#c48b8b"/>
</g>
<g clip-path="url(#cl2)">
<rect x="189.6" y="815" width="8.4" height="318.3" fill="#efefef"/>
<rect x="1304.4" y="815" width="15.2" height="318.3" fill="#efefef"/>
<path d="M185 1163.3 H197.2 V1006.5 H199 V984.1 H201 V956.5 H203 V1163.3 H211.5 V1081.4 H213.5 V951.3 H215.5 V1163.3 H219.4 V1022.2 H220.9 V940.7 H222.5 V1013.6 H225 V1163.3 H227.8 V965.7 H229.5 V1163.3 H234.9 V1030.1 H236.8 V1163.3 H240.4 V971 H242 V1163.3 H245.5 V953.9 H247 V1163.3 H255.5 V993.3 H257.5 V1163.3 H258.5 V1163.3 H259 V1163.3 H185 Z" fill="#cccccc" stroke="none"/>
<path d="M185 1163.3 H197.2 V1006.5 H199 V984.1 H201 V956.5 H203 V1163.3 H211.5 V1081.4 H213.5 V951.3 H215.5 V1163.3 H219.4 V1022.2 H220.9 V940.7 H222.5 V1013.6 H225 V1163.3 H227.8 V965.7 H229.5 V1163.3 H234.9 V1030.1 H236.8 V1163.3 H240.4 V971 H242 V1163.3 H245.5 V953.9 H247 V1163.3 H255.5 V993.3 H257.5 V1163.3 H262.6 V944.7 H265.5 V993.3 H267.5 V934.2 H270.5 V882.4 H273.5 V956.5 H276.4 V947.3 H279.3 V900 H282.2 V947.3 H284.9 V1163.3 H291.3 V915.2 H295 V1163.3 H297.2 V795.1 H302.1 V923.4 H305.4 V1163.3 H311.1 V1006.9 H316 V1163.3 H319.2 V930.27 H323.3 V895.88 H327.8 V904.24 H331.5 V968.5 H335.8 V909.78 H338.8 V891.98 H343.1 V907.17 H351.7 V883 H356.6 V921.6 H360.3 V893.4 H365.2 V1001.4 H369.5 V906.9 H373.8 V915.1 H376 V930.1 H381.8 V900.5 H387.2 V932.4 H391.3 V905.9 H396.2 V902.3 H401.2 V914.9 H405.2 V942.8 H409.3 V964.4 H414.2 V945.9 H419.2 V910.4 H423.2 V938.7 H427.7 V922.1 H432.2 V950 H437.2 V920.3 H441.7 V914 H446.6 V922.5 H455.6 V989.1 H459.7 V938.7 H468.7 V900.9 H474.1 V932.63 H477.9 V977.17 H482.4 V923.67 H487 V949.07 H491 V939.1 H495.6 V951.99 H499.6 V982.63 H504.8 V951.88 H508.8 V964.81 H512.8 V935.95 H518 V949.9 H521.4 V1001.77 H526 V951.37 H529.4 V942.84 H534 V987.83 H538 V990.37 H542.6 V939.66 H546.6 V999.49 H550.6 V966.63 H555.2 V946.82 H558.6 V934.59 H563.2 V942.29 H567.2 V966.62 H574 V977.67 H579.2 V970.72 H582.6 V943.59 H587.2 V962.19 H592.9 V965.21 H598.1 V948.86 H602.1 V946.09 H606.1 V995.23 H610.1 V934.86 H614.1 V966.09 H617 V952.2 H620.4 V932.29 H625 V978.17 H627.3 V981.52 H629.6 V984.96 H632.4 V998.59 H635.9 V956.1 H639.3 V993.32 H643.3 V974.32 H646.7 V963.33 H650.2 V974.64 H654.2 V958.54 H656.5 V948.19 H660.5 V942.89 H664.5 V953.09 H667 V948.83 H671.6 V983.51 H675.4 V960.82 H683.8 V962.5 H685.7 V1006.76 H688.5 V1015.19 H691.4 V1047.12 H695.1 V1011.22 H698.9 V948.93 H701.7 V1010.12 H705.5 V986.67 H711.1 V1013.14 H714.9 V990.59 H718.7 V973.63 H721.5 V978.37 H725.3 V955.82 H728.1 V990.75 H730.9 V1048.19 H734.7 V983.23 H737.5 V1020.07 H741.3 V977.72 H744.1 V962.65 H746.9 V1009.79 H749.7 V989.12 H752.6 V1046.56 H756.3 V993.9 H759.2 V960.94 H762.8 V964.78 H765.6 V991.22 H771.3 V1018.59 H774.1 V948.93 H777.9 V1043.17 H780.7 V943.74 H783.5 V1000.99 H787.3 V982.41 H791.1 V995.72 H794.8 V1008.22 H797.7 V1046.08 H801.4 V974.69 H804.3 V1025.65 H809.9 V980.76 H812.7 V964.92 H815.6 V997.08 H819.3 V978.48 H824 V976.84 H826.9 V1036.41 H830.6 V991.91 H832.5 V1051.72 H835.3 V983.17 H838.2 V988.93 H842.9 V1007.09 H846.6 V992.8 H848.5 V1163.3 H852.3 V983.12 H855.1 V1019.07 H857.9 V979.73 H860.3 V1012.76 H862.5 V975.28 H865.4 V984.84 H868.2 V1028.3 H870.1 V1116.01 H873.8 V1018.28 H875.7 V966.63 H878.5 V979.14 H881.4 V968.95 H884.2 V982.37 H888 V1006.25 H891.7 V985.73 H896.4 V954.08 H900.2 V1023.16 H904 V986.65 H908.7 V929.6 H912.4 V967.4 H915.3 V968.3 H919 V973 H921.9 V1040.8 H924.7 V1064.4 H927.5 V967.4 H930.3 V966.4 H934.1 V995.6 H937.9 V977.7 H941.6 V960.8 H944.5 V979.6 H947.3 V999.4 H950.1 V971.1 H952.9 V987.1 H955.6 V1021 H959.4 V949.5 H962.2 V977.1 H966 V1034.2 H968.8 V1054 H971.7 V997.5 H974.5 V966.4 H978.2 V1032.3 H981.1 V1102 H984.8 V1015.4 H988.6 V944.8 H992.4 V956.1 H995.2 V1009.7 H999.9 V957 H1004.6 V1029.5 H1008.4 V981.5 H1012.1 V959.1 H1016 V952.1 H1020 V967.1 H1024.4 V955.1 H1028.2 V1001.3 H1031.9 V947.6 H1036.6 V944.7 H1040.4 V961.37 H1043.2 V949 H1047 V951.36 H1049.8 V971.19 H1052.1 V995.65 H1055.7 V1163.3 H1059.3 V1009.5 H1062.8 V975.39 H1065.2 V961.64 H1067.6 V978.09 H1072.3 V1013.4 H1075.9 V957.38 H1078.3 V1163.3 H1080.6 V944.09 H1083 V962.95 H1086.6 V1010.22 H1090.1 V957.71 H1092.5 V1054.96 H1096.1 V976.34 H1099.6 V916.72 H1103.2 V1004.31 H1105.6 V975.59 H1107.9 V962.88 H1110.5 V958.65 H1113 V953.42 H1115.5 V947.19 H1118 V940.46 H1120.3 V933.25 H1122.4 V925.56 H1124.3 V917.89 H1126.2 V910.72 H1128.1 V875.05 H1132.1 V889.18 H1133.6 V910.05 H1135.3 V920.89 H1137.3 V929.71 H1139.3 V937.53 H1141.3 V944.35 H1143.4 V951.15 H1145.5 V957.26 H1147.4 V936.79 H1148.6 V921.68 H1150.2 V878.34 H1154.3 V896.16 H1155.6 V958.95 H1157.6 V923.46 H1159.6 V839.48 H1160.9 V819.06 H1165.4 V862.55 H1166 V888.6 H1166.9 V949.72 H1172.1 V958.35 H1176 V1023.49 H1180 V999.53 H1182.6 V946.99 H1186.5 V954.44 H1190.4 V1005.18 H1193.6 V966.89 H1196.2 V918.25 H1199.6 V966.05 H1202.2 V919.01 H1203.5 V1163.3 H1206.2 V939.55 H1210.1 V910.39 H1214 V1064.6 H1217.9 V950.5 H1220 V942.15 H1223.2 V1054.7 H1226.4 V927.86 H1229.6 V924.42 H1231.7 V1023.16 H1234.5 V911.25 H1237.4 V941.93 H1240.2 V969.32 H1242.3 V1009.56 H1245.5 V945.52 H1248.7 V917.58 H1251.9 V968.44 H1254 V922.58 H1257.2 V1070.14 H1260.4 V923.1 H1263.6 V902.71 H1264.7 V1163.3 H1267.9 V913.52 H1271.1 V1003.99 H1273.2 V1163.3 H1276.4 V915.82 H1279.6 V919.5 H1283.8 V976.6 H1287 V965.67 H1289.1 V935.22 H1293.4 V1047.02 H1296.6 V965.9 H1299.8 V921.68 H1303 V972.85 H1304.5" fill="none" stroke="#cccccc" stroke-width="2.3" stroke-linejoin="miter"/>
<polyline points="318,1150 318.2,968.7 322,968.7 322,912.2 327.5,910.4 332.4,906.8 336.5,906.5 338.9,908.1 345.5,908.1 365.1,908.9 371.7,912.2 384.7,914.6 392.9,922.8 396.2,929.4 401.1,923.6 410,922 424,924.5 435.5,926.9 451.8,931 468.2,935.9 492.8,943.3 517.3,949 533.7,953.9 550,956.4 566.4,958.8 580,960.5 620,965 660,970 700,975.5 758.9,984.3 798.2,989.2 837.4,991.2 859,992.2 862.5,995.5 866.9,999.1 876.7,996.1 896.4,988.3 904.2,982.4 905,982.64 905.8,982.64 905.8,939 912.4,939 912.4,984.9 913,985.08 916,986 921.9,983 928,984 934.6,990 939.5,982.4 957.2,982.4 959.5,983.8 960.4,983.8 960.4,940.9 965.1,940.9 965.1,983.95 966,983.03 967,982 1000,980.5 1011.5,982.91 1012.1,982.91 1012.1,919.2 1017,919.2 1017,945.6 1022.5,945.6 1022.5,976.73 1023,976.58 1058.9,974.6 1090,971.3 1107.9,970 1107.9,970 1107.9,968 1110.5,968 1110.5,963.6 1113,963.6 1113,958.6 1115.5,958.6 1115.5,952.6 1118,952.6 1118,946.1 1120.3,946.1 1120.3,939.1 1122.4,939.1 1122.4,931.6 1124.3,931.6 1124.3,924.1 1126.2,924.1 1126.2,917.1 1128.1,917.1 1128.1,881.6 1132.1,881.6 1132.1,896 1133.6,896 1133.6,917.1 1135.3,917.1 1135.3,928.1 1137.3,928.1 1137.3,937.1 1139.3,937.1 1139.3,945.1 1141.3,945.1 1141.3,952.1 1143.4,952.1 1143.4,959.1 1145.5,959.1 1145.5,965.4 1147.4,965.4 1147.4,945.1 1148.6,945.1 1148.6,930.1 1150.2,930.1 1150.2,886.9 1154.3,886.9 1154.3,905.1 1155.6,905.1 1155.6,965.38 1157.6,965.38 1157.6,932.7 1159.6,932.7 1159.6,848.9 1160.9,848.9 1160.9,829.9 1165.4,829.9 1165.4,872.5 1166.7,872.5 1166.7,898.6 1168,898.6 1168,963 1176.8,961.8 1216.1,957.9 1255.4,953.9 1319.3,947.5" fill="none" stroke="#bc8f8f" stroke-opacity="0.63" stroke-width="3.3" stroke-linejoin="round"/>
<path d="M321.7 1150 L323 1000 L325 940 L327.5 912.4 C328.73 907.03 330.9 908.62 332.4 907.8 C333.08 907.75 335.42 907.28 336.5 907.5 C337.58 907.72 337.4 908.83 338.9 909.1 C340.4 909.37 341.13 908.97 345.5 909.1 C349.87 909.23 360.73 909.22 365.1 909.9 C369.47 910.58 368.43 912.25 371.7 913.2 C374.97 914.15 381.17 913.83 384.7 915.6 C388.23 917.37 390.98 921.33 392.9 923.8 C394.82 926.27 394.83 930.27 396.2 930.4 C397.57 930.53 398.8 925.83 401.1 924.6 C403.4 923.37 406.18 922.85 410 923 C413.82 923.15 419.75 924.68 424 925.5 C428.25 926.32 430.87 926.82 435.5 927.9 C440.13 928.98 446.35 930.5 451.8 932 C457.25 933.5 461.37 934.85 468.2 936.9 C475.03 938.95 484.62 942.12 492.8 944.3 C500.98 946.48 510.48 948.23 517.3 950 C524.12 951.77 528.25 953.67 533.7 954.9 C539.15 956.13 544.55 956.58 550 957.4 C555.45 958.22 561.4 959.12 566.4 959.8 C571.4 960.48 571.07 960.47 580 961.5 C588.93 962.53 606.67 964.42 620 966 C633.33 967.58 646.67 969.25 660 971 C673.33 972.75 690.07 974.93 700 976.5 C709.93 978.07 709.78 978.77 719.6 980.4 C729.42 982.03 745.8 984.17 758.9 986.3 C772 988.43 785.12 991.23 798.2 993.2 C811.28 995.17 827.27 996.8 837.4 998.1 C847.53 999.4 854.65 999.85 859 1001 C863.35 1002.15 862.02 1003.52 863.5 1005 C864.98 1006.48 865.7 1009.58 867.9 1009.9 C870.1 1010.22 871.95 1008.53 876.7 1006.9 C881.45 1005.27 891.82 1000.92 896.4 1000.1 C900.98 999.28 902.08 1002.67 904.2 1002 C906.32 1001.33 907.13 995.77 909.1 996.1 C911.07 996.43 913.87 1003.67 916 1004 C918.13 1004.33 919.9 998.93 921.9 998.1 C923.9 997.27 925.88 997.2 928 999 C930.12 1000.8 932.68 1008.72 934.6 1008.9 C936.52 1009.08 936.05 1001.25 939.5 1000.1 C942.95 998.95 951.97 1001.02 955.3 1002 C958.63 1002.98 958.2 1004.37 959.5 1006 C960.8 1007.63 961.85 1011.63 963.1 1011.8 C964.35 1011.97 965.68 1008.13 967 1007 C968.32 1005.87 965.5 1004.5 971 1005 C976.5 1005.5 993.5 1009 1000 1010 C1006.5 1011 1007.75 1010.17 1010 1011 C1012.25 1011.83 1012.38 1013.53 1013.5 1015 C1014.62 1016.47 1015.62 1019.63 1016.7 1019.8 C1017.78 1019.97 1018.85 1016.98 1020 1016 C1021.15 1015.02 1017.12 1013.43 1023.6 1013.9 C1030.08 1014.37 1046.47 1017 1058.9 1018.8 C1071.33 1020.6 1087.72 1023.23 1098.2 1024.7 C1108.68 1026.17 1116.75 1026.38 1121.8 1027.6 C1126.85 1028.82 1126.87 1030.52 1128.5 1032 C1130.13 1033.48 1130.55 1036.5 1131.6 1036.5 C1132.65 1036.5 1133.48 1033.15 1134.8 1032 C1136.12 1030.85 1132.5 1029.35 1139.5 1029.6 C1146.5 1029.85 1164.03 1031.87 1176.8 1033.5 C1189.57 1035.13 1203 1037.6 1216.1 1039.4 C1229.2 1041.2 1242.3 1042.82 1255.4 1044.3 C1268.5 1045.78 1284.05 1047.32 1294.7 1048.3 C1305.35 1049.28 1315.2 1049.88 1319.3 1050.2" fill="none" stroke="#607c9c" stroke-opacity="0.8" stroke-width="3.4" stroke-linejoin="round"/>
<polyline points="805,1140.85 809.29,1137.2 813.58,1133.62 817.86,1130.1 822.15,1126.66 826.44,1123.27 830.73,1119.95 835.01,1116.69 839.3,1113.49 843.59,1110.35 847.88,1107.27 852.16,1104.24 856.45,1101.26 860.74,1098.34 865.02,1095.47 869.31,1092.66 873.6,1089.89 877.89,1087.17 882.17,1084.5 886.46,1081.88 890.75,1079.3 895.04,1076.77 899.33,1074.28 903.61,1071.83 907.9,1069.43 912.19,1067.07 916.48,1064.74 920.76,1062.46 925.05,1060.22 929.34,1058.01 933.62,1055.85 937.91,1053.72 942.2,1051.62 946.49,1049.56 950.77,1047.54 955.06,1045.55 959.35,1043.59 963.64,1041.67 967.92,1039.78 972.21,1037.92 976.5,1036.09 980.79,1034.29 985.08,1032.52 989.36,1030.78 993.65,1029.07 997.94,1027.38 1002.23,1025.73 1006.51,1024.1 1010.8,1022.5 1015.09,1020.93 1019.38,1019.38 1023.66,1017.86 1027.95,1016.36 1032.24,1014.89 1036.53,1013.44 1040.81,1012.01 1045.1,1010.61 1049.39,1009.23 1053.67,1007.88 1057.96,1006.55 1062.25,1005.23 1066.54,1003.94 1070.83,1002.68 1075.11,1001.43 1079.4,1000.2 1083.69,998.99 1087.97,997.81 1092.26,996.64 1096.55,995.49 1100.84,994.36 1105.12,993.25 1109.41,992.16 1113.7,991.09 1117.99,990.03 1122.28,988.99 1126.56,987.97 1130.85,986.97 1135.14,985.98 1139.42,985.01 1143.71,984.05 1148,983.12 1152.29,982.19 1156.58,981.29 1160.86,980.39 1165.15,979.52 1169.44,978.66 1173.72,977.81 1178.01,976.98 1182.3,976.16 1186.59,975.36 1190.88,974.57 1195.16,973.79 1199.45,973.03 1203.74,972.28 1208.03,971.54 1212.31,970.82 1216.6,970.11 1220.89,969.41 1225.17,968.73 1229.46,968.05 1233.75,967.39 1238.04,966.74 1242.33,966.11 1246.61,965.48 1250.9,964.87 1255.19,964.26 1259.47,963.67 1263.76,963.09 1268.05,962.52 1272.34,961.96 1276.62,961.41 1280.91,960.88 1285.2,960.35 1289.49,959.83 1293.78,959.32 1298.06,958.83 1302.35,958.34 1306.64,957.86 1310.92,957.39 1315.21,956.93 1319.5,956.48" fill="none" stroke="#f0808a" stroke-opacity="0.7" stroke-width="3.4" stroke-linejoin="round"/>
<line x1="191.9" y1="970.7" x2="191.9" y2="1163.3" stroke="#000" stroke-opacity="0.46" stroke-width="3.6"/>
<line x1="243" y1="947.1" x2="243" y2="1163.3" stroke="#000" stroke-opacity="0.46" stroke-width="3.6"/>
<circle cx="243" cy="1020.8" r="6.4" fill="#000" fill-opacity="0.47"/>
<line x1="324.9" y1="937.5" x2="324.9" y2="962" stroke="#000" stroke-opacity="0.46" stroke-width="3.6"/>
<circle cx="324.9" cy="948.3" r="6.4" fill="#000" fill-opacity="0.47"/>
<line x1="347.5" y1="914.1" x2="347.5" y2="955.9" stroke="#000" stroke-opacity="0.46" stroke-width="3.6"/>
<circle cx="347.5" cy="921.1" r="6.4" fill="#000" fill-opacity="0.47"/>
<line x1="381.2" y1="901.3" x2="381.2" y2="973.7" stroke="#000" stroke-opacity="0.46" stroke-width="3.6"/>
<circle cx="381.2" cy="925.9" r="6.4" fill="#000" fill-opacity="0.47"/>
<line x1="407" y1="917.1" x2="407" y2="930.1" stroke="#000" stroke-opacity="0.46" stroke-width="3.6"/>
<circle cx="407" cy="923.1" r="6.4" fill="#000" fill-opacity="0.47"/>
<line x1="416.8" y1="904.9" x2="416.8" y2="932.8" stroke="#000" stroke-opacity="0.46" stroke-width="3.6"/>
<circle cx="416.8" cy="915.7" r="6.4" fill="#000" fill-opacity="0.47"/>
<line x1="522" y1="944.6" x2="522" y2="952.6" stroke="#000" stroke-opacity="0.46" stroke-width="3.6"/>
<circle cx="522" cy="948.6" r="6.4" fill="#000" fill-opacity="0.47"/>
<line x1="707.9" y1="972.6" x2="707.9" y2="978.6" stroke="#000" stroke-opacity="0.46" stroke-width="3.6"/>
<circle cx="707.9" cy="975.6" r="6.4" fill="#000" fill-opacity="0.47"/>
<line x1="893.8" y1="984.1" x2="893.8" y2="990.1" stroke="#000" stroke-opacity="0.46" stroke-width="3.6"/>
<circle cx="893.8" cy="987.1" r="6.4" fill="#000" fill-opacity="0.47"/>
<line x1="1020.6" y1="963.1" x2="1020.6" y2="969.1" stroke="#000" stroke-opacity="0.46" stroke-width="3.6"/>
<circle cx="1020.6" cy="966.1" r="6.4" fill="#000" fill-opacity="0.47"/>
<line x1="1091.3" y1="946.6" x2="1091.3" y2="952.6" stroke="#000" stroke-opacity="0.46" stroke-width="3.6"/>
<circle cx="1091.3" cy="949.6" r="6.4" fill="#000" fill-opacity="0.47"/>
<circle cx="325.5" cy="935.6" r="6.3" fill="#c48b8b"/>
<circle cx="347.6" cy="918.6" r="6.3" fill="#c48b8b"/>
<circle cx="381.1" cy="917" r="6.3" fill="#c48b8b"/>
<circle cx="406.8" cy="923.5" r="6.3" fill="#c48b8b"/>
<circle cx="416.7" cy="925.5" r="6.3" fill="#c48b8b"/>
<circle cx="521.9" cy="950.5" r="6.3" fill="#c48b8b"/>
<circle cx="707.9" cy="977.5" r="6.3" fill="#c48b8b"/>
<circle cx="894.4" cy="985.3" r="6.3" fill="#c48b8b"/>
<circle cx="1020.6" cy="973.6" r="6.3" fill="#c48b8b"/>
<circle cx="1091.4" cy="951" r="6.3" fill="#c48b8b"/>
</g>
<g clip-path="url(#cr0)">
<path d="M1566.4 304.4H1711.5V435H1566.4ZM1711.5 314.9H1814.3V437.9H1711.5ZM1814.3 127.6H1855.7V437.9H1814.3ZM1855.7 256.7H1884.5V430.7H1855.7ZM1884.5 193.7H1896V437.9H1884.5ZM1896 308.7H1911.3V437.9H1896Z" fill="#efefef"/>
<path d="M1566.4 339.9H1711.5V430.7H1566.4ZM1711.5 347.9H1814.3V424.5H1711.5ZM1814.3 225H1855.7V426.5H1814.3ZM1855.7 334.2H1884.5V399.5H1855.7ZM1884.5 283.7H1896V430.7H1884.5ZM1896 357H1911.3V418H1896Z" fill="#d0d0d0"/>
<path d="M1495.9 437.9 H1566.4 V389.6 H1711.5 V388.6 H1814.3 V324.9 H1855.7 V366.9 H1884.5 V362.6 H1896 V387.6 H1914.3" fill="none" stroke="#1a1a1a" stroke-width="4.0" stroke-linejoin="miter"/>
</g>
<g clip-path="url(#cr1)">
<path d="M1566.4 735.2H1711.5V784H1566.4ZM1711.5 653.7H1814.3V784.3H1711.5ZM1814.3 460H1855.7V778.6H1814.3ZM1855.7 690H1884.5V784.3H1855.7ZM1884.5 758.7H1896V784.3H1884.5ZM1896 761H1911.3V784.3H1896Z" fill="#efefef"/>
<path d="M1566.4 753.6H1711.5V779.4H1566.4ZM1711.5 700.8H1814.3V764.4H1711.5ZM1814.3 571.4H1855.7V748.8H1814.3ZM1855.7 729.8H1884.5V781.4H1855.7ZM1884.5 771.5H1896V784H1884.5ZM1896 772.3H1911.3V784H1896Z" fill="#d0d0d0"/>
<path d="M1495.9 784.3 H1566.4 V768.7 H1711.5 V736 H1814.3 V675.8 H1855.7 V765.8 H1884.5 V781.4 H1896 V778.6 H1914.3" fill="none" stroke="#1a1a1a" stroke-width="4.0" stroke-linejoin="miter"/>
</g>
<g clip-path="url(#cr2)">
<path d="M1566.4 1081H1711.5V1122.2H1566.4ZM1711.5 1044.1H1814.3V1122.2H1711.5ZM1814.3 1027H1855.7V1122.2H1814.3ZM1855.7 953.3H1884.5V1120.7H1855.7ZM1884.5 817H1896V1098H1884.5ZM1896 847.7H1911.3V1050.4H1896Z" fill="#efefef"/>
<path d="M1566.4 1106H1711.5V1120.7H1566.4ZM1711.5 1089.5H1814.3V1121.2H1711.5ZM1814.3 1078.2H1855.7V1119.3H1814.3ZM1855.7 1032.2H1884.5V1105.1H1855.7ZM1884.5 943.3H1896V1064H1884.5ZM1896 916.4H1911.3V1002.1H1896Z" fill="#d0d0d0"/>
<path d="M1495.9 1122.2 H1566.4 V1116.5 H1711.5 V1111.4 H1814.3 V1104.6 H1855.7 V1078.7 H1884.5 V1019.1 H1896 V962.6 H1914.3" fill="none" stroke="#1a1a1a" stroke-width="4.0" stroke-linejoin="miter"/>
</g>
<rect x="134.4" y="119.5" width="1240.4" height="318.7" fill="none" stroke="#262626" stroke-width="2.8"/>
<rect x="1497.9" y="119.5" width="413.4" height="318.7" fill="none" stroke="#262626" stroke-width="2.8"/>
<line x1="121.7" y1="438.2" x2="134.4" y2="438.2" stroke="#262626" stroke-width="2.8"/>
<line x1="125.9" y1="401.17" x2="134.4" y2="401.17" stroke="#262626" stroke-width="2.2"/>
<line x1="125.9" y1="379.51" x2="134.4" y2="379.51" stroke="#262626" stroke-width="2.2"/>
<line x1="125.9" y1="364.15" x2="134.4" y2="364.15" stroke="#262626" stroke-width="2.2"/>
<line x1="125.9" y1="352.23" x2="134.4" y2="352.23" stroke="#262626" stroke-width="2.2"/>
<line x1="125.9" y1="342.49" x2="134.4" y2="342.49" stroke="#262626" stroke-width="2.2"/>
<line x1="125.9" y1="334.25" x2="134.4" y2="334.25" stroke="#262626" stroke-width="2.2"/>
<line x1="125.9" y1="327.12" x2="134.4" y2="327.12" stroke="#262626" stroke-width="2.2"/>
<line x1="125.9" y1="320.83" x2="134.4" y2="320.83" stroke="#262626" stroke-width="2.2"/>
<line x1="121.7" y1="315.2" x2="134.4" y2="315.2" stroke="#262626" stroke-width="2.8"/>
<line x1="125.9" y1="278.17" x2="134.4" y2="278.17" stroke="#262626" stroke-width="2.2"/>
<line x1="125.9" y1="256.51" x2="134.4" y2="256.51" stroke="#262626" stroke-width="2.2"/>
<line x1="125.9" y1="241.15" x2="134.4" y2="241.15" stroke="#262626" stroke-width="2.2"/>
<line x1="125.9" y1="229.23" x2="134.4" y2="229.23" stroke="#262626" stroke-width="2.2"/>
<line x1="125.9" y1="219.49" x2="134.4" y2="219.49" stroke="#262626" stroke-width="2.2"/>
<line x1="125.9" y1="211.25" x2="134.4" y2="211.25" stroke="#262626" stroke-width="2.2"/>
<line x1="125.9" y1="204.12" x2="134.4" y2="204.12" stroke="#262626" stroke-width="2.2"/>
<line x1="125.9" y1="197.83" x2="134.4" y2="197.83" stroke="#262626" stroke-width="2.2"/>
<line x1="121.7" y1="192.2" x2="134.4" y2="192.2" stroke="#262626" stroke-width="2.8"/>
<line x1="125.9" y1="155.17" x2="134.4" y2="155.17" stroke="#262626" stroke-width="2.2"/>
<line x1="125.9" y1="133.51" x2="134.4" y2="133.51" stroke="#262626" stroke-width="2.2"/>
<line x1="125.9" y1="118.15" x2="134.4" y2="118.15" stroke="#262626" stroke-width="2.2"/>
<rect x="134.4" y="467.2" width="1240.4" height="318.2" fill="none" stroke="#262626" stroke-width="2.8"/>
<rect x="1497.9" y="467.2" width="413.4" height="318.2" fill="none" stroke="#262626" stroke-width="2.8"/>
<line x1="121.7" y1="785.4" x2="134.4" y2="785.4" stroke="#262626" stroke-width="2.8"/>
<line x1="125.9" y1="748.37" x2="134.4" y2="748.37" stroke="#262626" stroke-width="2.2"/>
<line x1="125.9" y1="726.71" x2="134.4" y2="726.71" stroke="#262626" stroke-width="2.2"/>
<line x1="125.9" y1="711.35" x2="134.4" y2="711.35" stroke="#262626" stroke-width="2.2"/>
<line x1="125.9" y1="699.43" x2="134.4" y2="699.43" stroke="#262626" stroke-width="2.2"/>
<line x1="125.9" y1="689.69" x2="134.4" y2="689.69" stroke="#262626" stroke-width="2.2"/>
<line x1="125.9" y1="681.45" x2="134.4" y2="681.45" stroke="#262626" stroke-width="2.2"/>
<line x1="125.9" y1="674.32" x2="134.4" y2="674.32" stroke="#262626" stroke-width="2.2"/>
<line x1="125.9" y1="668.03" x2="134.4" y2="668.03" stroke="#262626" stroke-width="2.2"/>
<line x1="121.7" y1="662.4" x2="134.4" y2="662.4" stroke="#262626" stroke-width="2.8"/>
<line x1="125.9" y1="625.37" x2="134.4" y2="625.37" stroke="#262626" stroke-width="2.2"/>
<line x1="125.9" y1="603.71" x2="134.4" y2="603.71" stroke="#262626" stroke-width="2.2"/>
<line x1="125.9" y1="588.35" x2="134.4" y2="588.35" stroke="#262626" stroke-width="2.2"/>
<line x1="125.9" y1="576.43" x2="134.4" y2="576.43" stroke="#262626" stroke-width="2.2"/>
<line x1="125.9" y1="566.69" x2="134.4" y2="566.69" stroke="#262626" stroke-width="2.2"/>
<line x1="125.9" y1="558.45" x2="134.4" y2="558.45" stroke="#262626" stroke-width="2.2"/>
<line x1="125.9" y1="551.32" x2="134.4" y2="551.32" stroke="#262626" stroke-width="2.2"/>
<line x1="125.9" y1="545.03" x2="134.4" y2="545.03" stroke="#262626" stroke-width="2.2"/>
<line x1="121.7" y1="539.4" x2="134.4" y2="539.4" stroke="#262626" stroke-width="2.8"/>
<line x1="125.9" y1="502.37" x2="134.4" y2="502.37" stroke="#262626" stroke-width="2.2"/>
<line x1="125.9" y1="480.71" x2="134.4" y2="480.71" stroke="#262626" stroke-width="2.2"/>
<rect x="134.4" y="815" width="1240.4" height="318.3" fill="none" stroke="#262626" stroke-width="2.8"/>
<rect x="1497.9" y="815" width="413.4" height="318.3" fill="none" stroke="#262626" stroke-width="2.8"/>
<line x1="121.7" y1="1133.3" x2="134.4" y2="1133.3" stroke="#262626" stroke-width="2.8"/>
<line x1="125.9" y1="1096.27" x2="134.4" y2="1096.27" stroke="#262626" stroke-width="2.2"/>
<line x1="125.9" y1="1074.61" x2="134.4" y2="1074.61" stroke="#262626" stroke-width="2.2"/>
<line x1="125.9" y1="1059.25" x2="134.4" y2="1059.25" stroke="#262626" stroke-width="2.2"/>
<line x1="125.9" y1="1047.33" x2="134.4" y2="1047.33" stroke="#262626" stroke-width="2.2"/>
<line x1="125.9" y1="1037.59" x2="134.4" y2="1037.59" stroke="#262626" stroke-width="2.2"/>
<line x1="125.9" y1="1029.35" x2="134.4" y2="1029.35" stroke="#262626" stroke-width="2.2"/>
<line x1="125.9" y1="1022.22" x2="134.4" y2="1022.22" stroke="#262626" stroke-width="2.2"/>
<line x1="125.9" y1="1015.93" x2="134.4" y2="1015.93" stroke="#262626" stroke-width="2.2"/>
<line x1="121.7" y1="1010.3" x2="134.4" y2="1010.3" stroke="#262626" stroke-width="2.8"/>
<line x1="125.9" y1="973.27" x2="134.4" y2="973.27" stroke="#262626" stroke-width="2.2"/>
<line x1="125.9" y1="951.61" x2="134.4" y2="951.61" stroke="#262626" stroke-width="2.2"/>
<line x1="125.9" y1="936.25" x2="134.4" y2="936.25" stroke="#262626" stroke-width="2.2"/>
<line x1="125.9" y1="924.33" x2="134.4" y2="924.33" stroke="#262626" stroke-width="2.2"/>
<line x1="125.9" y1="914.59" x2="134.4" y2="914.59" stroke="#262626" stroke-width="2.2"/>
<line x1="125.9" y1="906.35" x2="134.4" y2="906.35" stroke="#262626" stroke-width="2.2"/>
<line x1="125.9" y1="899.22" x2="134.4" y2="899.22" stroke="#262626" stroke-width="2.2"/>
<line x1="125.9" y1="892.93" x2="134.4" y2="892.93" stroke="#262626" stroke-width="2.2"/>
<line x1="121.7" y1="887.3" x2="134.4" y2="887.3" stroke="#262626" stroke-width="2.8"/>
<line x1="125.9" y1="850.27" x2="134.4" y2="850.27" stroke="#262626" stroke-width="2.2"/>
<line x1="125.9" y1="828.61" x2="134.4" y2="828.61" stroke="#262626" stroke-width="2.2"/>
<text x="6" y="33.5" font-size="48" textLength="50.5" lengthAdjust="spacingAndGlyphs" font-weight="bold" style='fill:#000'>(c)</text>
<line x1="139" y1="0" x2="139" y2="30.5" stroke="#000" stroke-opacity="0.45" stroke-width="2.6"/>
<circle cx="139" cy="14.8" r="6.2" fill="#000" fill-opacity="0.45"/>
<text x="196" y="26.2" font-size="31" textLength="212.7" lengthAdjust="spacingAndGlyphs">JWST/NIRCam</text>
<line x1="470.6" y1="14.9" x2="534.4" y2="14.9" stroke="#cccccc" stroke-width="2.3"/>
<text x="558.8" y="26.2" font-size="31" textLength="175.4" lengthAdjust="spacingAndGlyphs">JWST/Prism</text>
<line x1="795" y1="14.9" x2="859.3" y2="14.9" stroke="#d5b6b7" stroke-width="3.4"/>
<text x="883" y="26.2" font-size="31" textLength="287.7" lengthAdjust="spacingAndGlyphs">Total model spectrum</text>
<line x1="1231" y1="14.9" x2="1296" y2="14.9" stroke="#7d96ae" stroke-width="3.4"/>
<text x="1320" y="26.2" font-size="31" textLength="93" lengthAdjust="spacingAndGlyphs">Galaxy</text>
<line x1="1473" y1="14.9" x2="1538" y2="14.9" stroke="#f5a7ae" stroke-width="3.4"/>
<text x="1562" y="26.2" font-size="31" textLength="257" lengthAdjust="spacingAndGlyphs">AGN accretion disk</text>
<text x="160" y="81.3" font-size="31" textLength="420.7" lengthAdjust="spacingAndGlyphs">RUBIES-EGS-966323 (L23-14924)</text>
<text x="594" y="81.3" font-size="30" textLength="13.5" lengthAdjust="spacingAndGlyphs" font-style="italic">z</text>
<text x="607.2" y="85.7" font-size="21" textLength="37.9" lengthAdjust="spacingAndGlyphs">spec</text>
<text x="647.8" y="81.3" font-size="30" textLength="70.1" lengthAdjust="spacingAndGlyphs">=8.35</text>
<text x="160.2" y="158.3" font-size="31" textLength="122.7" lengthAdjust="spacingAndGlyphs" font-weight="bold">Maximal</text>
<text x="296.9" y="158.3" font-size="31" textLength="28" lengthAdjust="spacingAndGlyphs" font-style="italic">M</text>
<text x="320.7" y="164.2" font-size="23" style='font-family:"DejaVu Math TeX Gyre", "DejaVu Sans", serif'>⋆</text>
<text x="345.5" y="158.3" font-size="31" textLength="141" lengthAdjust="spacingAndGlyphs">(SBS=1.73)</text>
<text x="160.2" y="505.1" font-size="31" textLength="115.8" lengthAdjust="spacingAndGlyphs" font-weight="bold">Medium</text>
<text x="289.5" y="505.1" font-size="31" textLength="28.3" lengthAdjust="spacingAndGlyphs" font-style="italic">M</text>
<text x="314.2" y="511" font-size="23" style='font-family:"DejaVu Math TeX Gyre", "DejaVu Sans", serif'>⋆</text>
<text x="338" y="505.1" font-size="31" textLength="141.1" lengthAdjust="spacingAndGlyphs">(SBS=1.70)</text>
<text x="160.2" y="853.3" font-size="31" textLength="117.1" lengthAdjust="spacingAndGlyphs" font-weight="bold">Minimal</text>
<text x="291.3" y="853.3" font-size="31" textLength="28" lengthAdjust="spacingAndGlyphs" font-style="italic">M</text>
<text x="314.7" y="859.2" font-size="23" style='font-family:"DejaVu Math TeX Gyre", "DejaVu Sans", serif'>⋆</text>
<text x="339" y="853.3" font-size="31" textLength="141.4" lengthAdjust="spacingAndGlyphs">(SBS=1.11)</text>
<g transform="translate(955.8 263) rotate(-90)"><text x="0" y="0" font-size="30" textLength="20" lengthAdjust="spacingAndGlyphs">H</text><text x="20.5" y="0" font-size="30" textLength="13" lengthAdjust="spacingAndGlyphs" font-style="italic">δ</text><text x="45.5" y="0" font-size="30" textLength="19.5" lengthAdjust="spacingAndGlyphs">+</text><text x="76" y="0" font-size="30" textLength="56" lengthAdjust="spacingAndGlyphs">[S II]</text></g>
<g transform="translate(1007.3 202.8) rotate(-90)"><text x="0" y="0" font-size="30" textLength="20.5" lengthAdjust="spacingAndGlyphs">H</text><text x="21" y="0" font-size="30" textLength="14.5" lengthAdjust="spacingAndGlyphs" font-style="italic">γ</text></g>
<g transform="translate(1048.2 205) rotate(-90)"><text x="0" y="0" font-size="30" textLength="75.7" lengthAdjust="spacingAndGlyphs">[O III]</text></g>
<g transform="translate(1122.5 202.2) rotate(-90)"><text x="0" y="0" font-size="30" textLength="20.5" lengthAdjust="spacingAndGlyphs">H</text><text x="21" y="0" font-size="30" textLength="15" lengthAdjust="spacingAndGlyphs" font-style="italic">β</text></g>
<g transform="translate(1190.9 204.8) rotate(-90)"><text x="0" y="0" font-size="30" textLength="75.9" lengthAdjust="spacingAndGlyphs">[O III]</text></g>
<text x="48.8" y="449.1" font-size="30" textLength="26.7" lengthAdjust="spacingAndGlyphs">10</text>
<text x="78.1" y="438" font-size="21" textLength="34.8" lengthAdjust="spacingAndGlyphs">−22</text>
<text x="48.8" y="326.1" font-size="30" textLength="26.7" lengthAdjust="spacingAndGlyphs">10</text>
<text x="78.1" y="315" font-size="21" textLength="34.8" lengthAdjust="spacingAndGlyphs">−21</text>
<text x="48.8" y="203.1" font-size="30" textLength="26.7" lengthAdjust="spacingAndGlyphs">10</text>
<text x="78.1" y="192" font-size="21" textLength="34.8" lengthAdjust="spacingAndGlyphs">−20</text>
<text x="48.8" y="796.3" font-size="30" textLength="26.7" lengthAdjust="spacingAndGlyphs">10</text>
<text x="78.1" y="785.2" font-size="21" textLength="34.8" lengthAdjust="spacingAndGlyphs">−22</text>
<text x="48.8" y="673.3" font-size="30" textLength="26.7" lengthAdjust="spacingAndGlyphs">10</text>
<text x="78.1" y="662.2" font-size="21" textLength="34.8" lengthAdjust="spacingAndGlyphs">−21</text>
<text x="48.8" y="550.3" font-size="30" textLength="26.7" lengthAdjust="spacingAndGlyphs">10</text>
<text x="78.1" y="539.2" font-size="21" textLength="34.8" lengthAdjust="spacingAndGlyphs">−20</text>
<text x="48.8" y="1144.2" font-size="30" textLength="26.7" lengthAdjust="spacingAndGlyphs">10</text>
<text x="78.1" y="1133.1" font-size="21" textLength="34.8" lengthAdjust="spacingAndGlyphs">−22</text>
<text x="48.8" y="1021.2" font-size="30" textLength="26.7" lengthAdjust="spacingAndGlyphs">10</text>
<text x="78.1" y="1010.1" font-size="21" textLength="34.8" lengthAdjust="spacingAndGlyphs">−21</text>
<text x="48.8" y="898.2" font-size="30" textLength="26.7" lengthAdjust="spacingAndGlyphs">10</text>
<text x="78.1" y="887.1" font-size="21" textLength="34.8" lengthAdjust="spacingAndGlyphs">−20</text>
<g transform="translate(29.5 431.65) rotate(-90)"><text x="0" y="0" font-size="31" textLength="26" lengthAdjust="spacingAndGlyphs" font-style="italic">F</text><text x="21.6" y="4.5" font-size="21" textLength="11.1" lengthAdjust="spacingAndGlyphs" font-style="italic">λ</text><g transform="translate(40.98 2.7) scale(1 1.35)"><text x="0" y="0" font-size="30">[</text></g><text x="50.1" y="0" font-size="30" textLength="46.3" lengthAdjust="spacingAndGlyphs">erg</text><text x="104" y="0" font-size="30" textLength="12" lengthAdjust="spacingAndGlyphs">s</text><text x="119.3" y="-12" font-size="21" textLength="26.7" lengthAdjust="spacingAndGlyphs">−1</text><text x="159.2" y="0" font-size="30" textLength="41.4" lengthAdjust="spacingAndGlyphs">cm</text><text x="202.4" y="-12" font-size="21" textLength="27.6" lengthAdjust="spacingAndGlyphs">−2</text><text x="242.5" y="0" font-size="30" textLength="23.7" lengthAdjust="spacingAndGlyphs">Å</text><text x="269.3" y="-12" font-size="21" textLength="26.2" lengthAdjust="spacingAndGlyphs">−1</text><g transform="translate(295.43 2.7) scale(1 1.35)"><text x="0" y="0" font-size="30">]</text></g></g>
<g transform="translate(29.5 779.1) rotate(-90)"><text x="0" y="0" font-size="31" textLength="26" lengthAdjust="spacingAndGlyphs" font-style="italic">F</text><text x="21.6" y="4.5" font-size="21" textLength="11.1" lengthAdjust="spacingAndGlyphs" font-style="italic">λ</text><g transform="translate(40.98 2.7) scale(1 1.35)"><text x="0" y="0" font-size="30">[</text></g><text x="50.1" y="0" font-size="30" textLength="46.3" lengthAdjust="spacingAndGlyphs">erg</text><text x="104" y="0" font-size="30" textLength="12" lengthAdjust="spacingAndGlyphs">s</text><text x="119.3" y="-12" font-size="21" textLength="26.7" lengthAdjust="spacingAndGlyphs">−1</text><text x="159.2" y="0" font-size="30" textLength="41.4" lengthAdjust="spacingAndGlyphs">cm</text><text x="202.4" y="-12" font-size="21" textLength="27.6" lengthAdjust="spacingAndGlyphs">−2</text><text x="242.5" y="0" font-size="30" textLength="23.7" lengthAdjust="spacingAndGlyphs">Å</text><text x="269.3" y="-12" font-size="21" textLength="26.2" lengthAdjust="spacingAndGlyphs">−1</text><g transform="translate(295.43 2.7) scale(1 1.35)"><text x="0" y="0" font-size="30">]</text></g></g>
<g transform="translate(29.5 1126.95) rotate(-90)"><text x="0" y="0" font-size="31" textLength="26" lengthAdjust="spacingAndGlyphs" font-style="italic">F</text><text x="21.6" y="4.5" font-size="21" textLength="11.1" lengthAdjust="spacingAndGlyphs" font-style="italic">λ</text><g transform="translate(40.98 2.7) scale(1 1.35)"><text x="0" y="0" font-size="30">[</text></g><text x="50.1" y="0" font-size="30" textLength="46.3" lengthAdjust="spacingAndGlyphs">erg</text><text x="104" y="0" font-size="30" textLength="12" lengthAdjust="spacingAndGlyphs">s</text><text x="119.3" y="-12" font-size="21" textLength="26.7" lengthAdjust="spacingAndGlyphs">−1</text><text x="159.2" y="0" font-size="30" textLength="41.4" lengthAdjust="spacingAndGlyphs">cm</text><text x="202.4" y="-12" font-size="21" textLength="27.6" lengthAdjust="spacingAndGlyphs">−2</text><text x="242.5" y="0" font-size="30" textLength="23.7" lengthAdjust="spacingAndGlyphs">Å</text><text x="269.3" y="-12" font-size="21" textLength="26.2" lengthAdjust="spacingAndGlyphs">−1</text><g transform="translate(295.43 2.7) scale(1 1.35)"><text x="0" y="0" font-size="30">]</text></g></g>
<text x="1478.2" y="449.1" font-size="30" text-anchor="end">0</text>
<line x1="1485.4" y1="437.9" x2="1497.9" y2="437.9" stroke="#262626" stroke-width="2.8"/>
<text x="1478.2" y="375.2" font-size="30" text-anchor="end">100</text>
<line x1="1485.4" y1="364" x2="1497.9" y2="364" stroke="#262626" stroke-width="2.8"/>
<text x="1478.2" y="301.4" font-size="30" text-anchor="end">200</text>
<line x1="1485.4" y1="290.2" x2="1497.9" y2="290.2" stroke="#262626" stroke-width="2.8"/>
<text x="1478.2" y="227.6" font-size="30" text-anchor="end">300</text>
<line x1="1485.4" y1="216.4" x2="1497.9" y2="216.4" stroke="#262626" stroke-width="2.8"/>
<text x="1478.2" y="153.8" font-size="30" text-anchor="end">400</text>
<line x1="1485.4" y1="142.6" x2="1497.9" y2="142.6" stroke="#262626" stroke-width="2.8"/>
<text x="1478.2" y="795.5" font-size="30" text-anchor="end">0</text>
<line x1="1485.4" y1="784.3" x2="1497.9" y2="784.3" stroke="#262626" stroke-width="2.8"/>
<text x="1478.2" y="681.9" font-size="30" text-anchor="end">50</text>
<line x1="1485.4" y1="670.7" x2="1497.9" y2="670.7" stroke="#262626" stroke-width="2.8"/>
<text x="1478.2" y="569" font-size="30" text-anchor="end">100</text>
<line x1="1485.4" y1="557.8" x2="1497.9" y2="557.8" stroke="#262626" stroke-width="2.8"/>
<text x="1478.2" y="1133.4" font-size="30" text-anchor="end">0</text>
<line x1="1485.4" y1="1122.2" x2="1497.9" y2="1122.2" stroke="#262626" stroke-width="2.8"/>
<text x="1478.2" y="1026.9" font-size="30" text-anchor="end">5</text>
<line x1="1485.4" y1="1015.7" x2="1497.9" y2="1015.7" stroke="#262626" stroke-width="2.8"/>
<text x="1478.2" y="921.3" font-size="30" text-anchor="end">10</text>
<line x1="1485.4" y1="910.1" x2="1497.9" y2="910.1" stroke="#262626" stroke-width="2.8"/>
<g transform="translate(1417.7 370.35) rotate(-90)"><text x="0" y="0" font-size="30" textLength="53.8" lengthAdjust="spacingAndGlyphs">SFR</text><text x="65" y="0" font-size="30" textLength="29.2" lengthAdjust="spacingAndGlyphs">[M</text><text x="96.6" y="4.5" font-size="21" textLength="14.8" lengthAdjust="spacingAndGlyphs" style='font-family:"DejaVu Math TeX Gyre", "DejaVu Sans", serif'>⊙</text><text x="119.2" y="0" font-size="30" textLength="24.8" lengthAdjust="spacingAndGlyphs">yr</text><text x="148" y="-12" font-size="21" textLength="25.2" lengthAdjust="spacingAndGlyphs">−1</text><text x="176.2" y="0" font-size="30" textLength="5.4" lengthAdjust="spacingAndGlyphs">]</text></g>
<g transform="translate(1418.3 717.8) rotate(-90)"><text x="0" y="0" font-size="30" textLength="53.8" lengthAdjust="spacingAndGlyphs">SFR</text><text x="65" y="0" font-size="30" textLength="29.2" lengthAdjust="spacingAndGlyphs">[M</text><text x="96.6" y="4.5" font-size="21" textLength="14.8" lengthAdjust="spacingAndGlyphs" style='font-family:"DejaVu Math TeX Gyre", "DejaVu Sans", serif'>⊙</text><text x="119.2" y="0" font-size="30" textLength="24.8" lengthAdjust="spacingAndGlyphs">yr</text><text x="148" y="-12" font-size="21" textLength="25.2" lengthAdjust="spacingAndGlyphs">−1</text><text x="176.2" y="0" font-size="30" textLength="5.4" lengthAdjust="spacingAndGlyphs">]</text></g>
<g transform="translate(1433.9 1065.65) rotate(-90)"><text x="0" y="0" font-size="30" textLength="53.8" lengthAdjust="spacingAndGlyphs">SFR</text><text x="65" y="0" font-size="30" textLength="29.2" lengthAdjust="spacingAndGlyphs">[M</text><text x="96.6" y="4.5" font-size="21" textLength="14.8" lengthAdjust="spacingAndGlyphs" style='font-family:"DejaVu Math TeX Gyre", "DejaVu Sans", serif'>⊙</text><text x="119.2" y="0" font-size="30" textLength="24.8" lengthAdjust="spacingAndGlyphs">yr</text><text x="148" y="-12" font-size="21" textLength="25.2" lengthAdjust="spacingAndGlyphs">−1</text><text x="176.2" y="0" font-size="30" textLength="5.4" lengthAdjust="spacingAndGlyphs">]</text></g>
<text x="1515.4" y="157.2" font-size="30" textLength="34.3" lengthAdjust="spacingAndGlyphs">log</text>
<text x="1560.9" y="157.2" font-size="30" textLength="25.1" lengthAdjust="spacingAndGlyphs">M</text>
<text x="1586.4" y="163.2" font-size="21" textLength="10" lengthAdjust="spacingAndGlyphs" style='font-family:"DejaVu Math TeX Gyre", "DejaVu Sans", serif'>∗</text>
<text x="1598.6" y="157.2" font-size="30" textLength="39.2" lengthAdjust="spacingAndGlyphs">/M</text>
<text x="1638.5" y="162.2" font-size="21" textLength="14.7" lengthAdjust="spacingAndGlyphs" style='font-family:"DejaVu Math TeX Gyre", "DejaVu Sans", serif'>⊙</text>
<text x="1665.8" y="157.2" font-size="30" textLength="18.6" lengthAdjust="spacingAndGlyphs">=</text>
<text x="1697.3" y="157.2" font-size="30" textLength="61.7" lengthAdjust="spacingAndGlyphs">10.62</text>
<text x="1760.7" y="144.9" font-size="21" textLength="51.5" lengthAdjust="spacingAndGlyphs">+0.13</text>
<text x="1761.7" y="164.8" font-size="21" textLength="51.5" lengthAdjust="spacingAndGlyphs">−0.49</text>
<text x="1515.4" y="188.5" font-size="30" textLength="34.3" lengthAdjust="spacingAndGlyphs">log</text>
<text x="1560.9" y="188.5" font-size="30" textLength="103.4" lengthAdjust="spacingAndGlyphs">sSFR/yr</text>
<text x="1667.9" y="179.9" font-size="21" textLength="23.9" lengthAdjust="spacingAndGlyphs">−1</text>
<text x="1704.9" y="188.5" font-size="30" textLength="19" lengthAdjust="spacingAndGlyphs">=</text>
<text x="1737" y="188.5" font-size="30" textLength="69.3" lengthAdjust="spacingAndGlyphs">−8.85</text>
<text x="1808.1" y="177.1" font-size="21" textLength="51.2" lengthAdjust="spacingAndGlyphs">+0.32</text>
<text x="1809" y="197" font-size="21" textLength="50.3" lengthAdjust="spacingAndGlyphs">−0.17</text>
<text x="1515.4" y="506.1" font-size="30" textLength="34.3" lengthAdjust="spacingAndGlyphs">log</text>
<text x="1560.9" y="506.1" font-size="30" textLength="25.1" lengthAdjust="spacingAndGlyphs">M</text>
<text x="1586.4" y="512.1" font-size="21" textLength="10" lengthAdjust="spacingAndGlyphs" style='font-family:"DejaVu Math TeX Gyre", "DejaVu Sans", serif'>∗</text>
<text x="1598.6" y="506.1" font-size="30" textLength="39.2" lengthAdjust="spacingAndGlyphs">/M</text>
<text x="1638.5" y="511.1" font-size="21" textLength="14.7" lengthAdjust="spacingAndGlyphs" style='font-family:"DejaVu Math TeX Gyre", "DejaVu Sans", serif'>⊙</text>
<text x="1665.8" y="506.1" font-size="30" textLength="18.6" lengthAdjust="spacingAndGlyphs">=</text>
<text x="1697.3" y="506.1" font-size="30" textLength="47.4" lengthAdjust="spacingAndGlyphs">9.84</text>
<text x="1746.4" y="493.8" font-size="21" textLength="52.3" lengthAdjust="spacingAndGlyphs">+0.20</text>
<text x="1747.4" y="513.7" font-size="21" textLength="52.3" lengthAdjust="spacingAndGlyphs">−0.32</text>
<text x="1515.4" y="537.4" font-size="30" textLength="34.3" lengthAdjust="spacingAndGlyphs">log</text>
<text x="1560.9" y="537.4" font-size="30" textLength="103.4" lengthAdjust="spacingAndGlyphs">sSFR/yr</text>
<text x="1667.9" y="528.8" font-size="21" textLength="23.9" lengthAdjust="spacingAndGlyphs">−1</text>
<text x="1704.9" y="537.4" font-size="30" textLength="19" lengthAdjust="spacingAndGlyphs">=</text>
<text x="1736.2" y="537.4" font-size="30" textLength="71" lengthAdjust="spacingAndGlyphs">−9.05</text>
<text x="1808.6" y="526" font-size="21" textLength="51.1" lengthAdjust="spacingAndGlyphs">+0.35</text>
<text x="1809.5" y="545.9" font-size="21" textLength="50.2" lengthAdjust="spacingAndGlyphs">−0.25</text>
<text x="1515.4" y="853.9" font-size="30" textLength="34.3" lengthAdjust="spacingAndGlyphs">log</text>
<text x="1560.9" y="853.9" font-size="30" textLength="25.1" lengthAdjust="spacingAndGlyphs">M</text>
<text x="1586.4" y="859.9" font-size="21" textLength="10" lengthAdjust="spacingAndGlyphs" style='font-family:"DejaVu Math TeX Gyre", "DejaVu Sans", serif'>∗</text>
<text x="1598.6" y="853.9" font-size="30" textLength="39.2" lengthAdjust="spacingAndGlyphs">/M</text>
<text x="1638.5" y="858.9" font-size="21" textLength="14.7" lengthAdjust="spacingAndGlyphs" style='font-family:"DejaVu Math TeX Gyre", "DejaVu Sans", serif'>⊙</text>
<text x="1665.8" y="853.9" font-size="30" textLength="18.6" lengthAdjust="spacingAndGlyphs">=</text>
<text x="1697.3" y="853.9" font-size="30" textLength="47.4" lengthAdjust="spacingAndGlyphs">8.72</text>
<text x="1746.4" y="841.6" font-size="21" textLength="52.3" lengthAdjust="spacingAndGlyphs">+0.21</text>
<text x="1747.4" y="861.5" font-size="21" textLength="52.3" lengthAdjust="spacingAndGlyphs">−0.19</text>
<text x="1515.4" y="885.2" font-size="30" textLength="34.3" lengthAdjust="spacingAndGlyphs">log</text>
<text x="1560.9" y="885.2" font-size="30" textLength="103.4" lengthAdjust="spacingAndGlyphs">sSFR/yr</text>
<text x="1667.9" y="876.6" font-size="21" textLength="23.9" lengthAdjust="spacingAndGlyphs">−1</text>
<text x="1704.9" y="885.2" font-size="30" textLength="19" lengthAdjust="spacingAndGlyphs">=</text>
<text x="1736.2" y="885.2" font-size="30" textLength="71" lengthAdjust="spacingAndGlyphs">−8.27</text>
<text x="1808.6" y="873.8" font-size="21" textLength="51.1" lengthAdjust="spacingAndGlyphs">+0.16</text>
<text x="1809.5" y="893.7" font-size="21" textLength="50.2" lengthAdjust="spacingAndGlyphs">−0.16</text>
<line x1="290.6" y1="1133.3" x2="290.6" y2="1145.5" stroke="#262626" stroke-width="2.8"/>
<text x="290.6" y="1175" font-size="30" text-anchor="middle">1</text>
<line x1="527.6" y1="1133.3" x2="527.6" y2="1145.5" stroke="#262626" stroke-width="2.8"/>
<text x="527.6" y="1175" font-size="30" text-anchor="middle">2</text>
<line x1="764.6" y1="1133.3" x2="764.6" y2="1145.5" stroke="#262626" stroke-width="2.8"/>
<text x="764.6" y="1175" font-size="30" text-anchor="middle">3</text>
<line x1="1001.6" y1="1133.3" x2="1001.6" y2="1145.5" stroke="#262626" stroke-width="2.8"/>
<text x="1001.6" y="1175" font-size="30" text-anchor="middle">4</text>
<line x1="1238.6" y1="1133.3" x2="1238.6" y2="1145.5" stroke="#262626" stroke-width="2.8"/>
<text x="1238.6" y="1175" font-size="30" text-anchor="middle">5</text>
<line x1="1497.6" y1="1133.3" x2="1497.6" y2="1145.2" stroke="#262626" stroke-width="2.8"/>
<text x="1497.6" y="1174.8" font-size="30" text-anchor="middle">0.0</text>
<line x1="1632.8" y1="1133.3" x2="1632.8" y2="1145.2" stroke="#262626" stroke-width="2.8"/>
<text x="1632.8" y="1174.8" font-size="30" text-anchor="middle">0.2</text>
<line x1="1768.3" y1="1133.3" x2="1768.3" y2="1145.2" stroke="#262626" stroke-width="2.8"/>
<text x="1768.3" y="1174.8" font-size="30" text-anchor="middle">0.4</text>
<line x1="1903.5" y1="1133.3" x2="1903.5" y2="1145.2" stroke="#262626" stroke-width="2.8"/>
<text x="1903.5" y="1174.8" font-size="30" text-anchor="middle">0.6</text>
<line x1="1566.1" y1="119.5" x2="1566.1" y2="106.6" stroke="#262626" stroke-width="2.8"/>
<text x="1566.1" y="94.7" font-size="30" text-anchor="middle">30</text>
<line x1="1682.4" y1="119.5" x2="1682.4" y2="106.6" stroke="#262626" stroke-width="2.8"/>
<text x="1682.4" y="94.7" font-size="30" text-anchor="middle">15</text>
<line x1="1821.6" y1="119.5" x2="1821.6" y2="106.6" stroke="#262626" stroke-width="2.8"/>
<text x="1821.6" y="94.7" font-size="30" text-anchor="middle">10</text>
<line x1="1908.5" y1="119.5" x2="1908.5" y2="106.6" stroke="#262626" stroke-width="2.8"/>
<text x="1908.5" y="94.7" font-size="30" text-anchor="middle">8.4</text>
<text x="1698.7" y="64.6" font-size="30" textLength="14" lengthAdjust="spacingAndGlyphs" font-style="italic">z</text>
<text x="691.1" y="1213.5" font-size="30" textLength="14.9" lengthAdjust="spacingAndGlyphs" font-style="italic">λ</text>
<text x="706.5" y="1218" font-size="21" textLength="35.7" lengthAdjust="spacingAndGlyphs">obs</text>
<g transform="translate(755.8 1219) scale(1 1.49)"><text x="0" y="0" font-size="30">[</text></g>
<text x="765" y="1213.5" font-size="30" textLength="18" lengthAdjust="spacingAndGlyphs" font-style="italic">µ</text>
<text x="785" y="1213.5" font-size="30" textLength="25.5" lengthAdjust="spacingAndGlyphs">m</text>
<g transform="translate(809.8 1219) scale(1 1.49)"><text x="0" y="0" font-size="30">]</text></g>
<text x="1549.7" y="1210" font-size="31" textLength="309" lengthAdjust="spacingAndGlyphs">Age of the universe [Gyr]</text>
</svg></body></html>
